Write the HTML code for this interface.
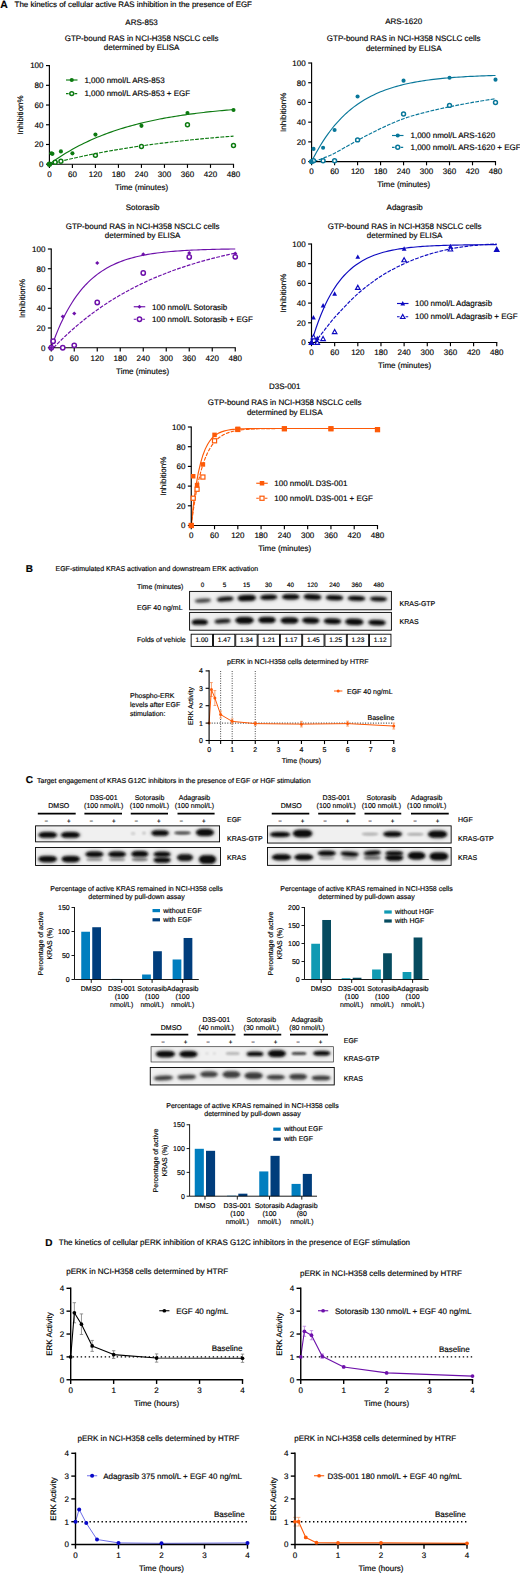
<!DOCTYPE html>
<html><head><meta charset="utf-8"><title>Figure</title>
<style>
html,body{margin:0;padding:0;background:#fff;}
svg{display:block;text-rendering:geometricPrecision;font-family:"Liberation Sans",sans-serif;font-size:8px;}
text{stroke:#000;stroke-width:0.16px;}
</style></head><body>
<svg width="520" height="1573" viewBox="0 0 520 1573">
<defs>
<filter id="b1" x="-30%" y="-60%" width="160%" height="220%"><feGaussianBlur stdDeviation="0.9"/></filter>
<filter id="b3" x="-40%" y="-80%" width="180%" height="260%"><feGaussianBlur stdDeviation="1.8"/></filter>
<filter id="b2" x="-30%" y="-60%" width="160%" height="220%"><feGaussianBlur stdDeviation="1.3"/></filter>
</defs>
<rect width="520" height="1573" fill="#fff"/>
<text x="0.20" y="7.70" font-weight="bold" font-size="10.4">A</text>
<text x="14.60" y="6.90" font-size="7.95">The kinetics of cellular active RAS inhibition in the presence of EGF</text>
<text x="141.60" y="24.70" text-anchor="middle">ARS-853</text>
<text x="141.60" y="41.40" text-anchor="middle">GTP-bound RAS in NCI-H358 NSCLC cells</text>
<text x="141.60" y="50.40" text-anchor="middle">determined by ELISA</text>
<path d="M49.40 164.20 L51.70 162.52 L54.00 160.88 L56.30 159.29 L58.60 157.75 L60.91 156.24 L63.21 154.78 L65.51 153.36 L67.81 151.97 L70.11 150.63 L72.41 149.32 L74.71 148.05 L77.02 146.81 L79.32 145.61 L81.62 144.44 L83.92 143.30 L86.22 142.19 L88.52 141.11 L90.82 140.07 L93.12 139.05 L95.42 138.06 L97.73 137.09 L100.03 136.16 L102.33 135.25 L104.63 134.36 L106.93 133.50 L109.23 132.66 L111.53 131.84 L113.84 131.05 L116.14 130.28 L118.44 129.53 L120.74 128.80 L123.04 128.09 L125.34 127.40 L127.64 126.73 L129.94 126.08 L132.25 125.44 L134.55 124.83 L136.85 124.23 L139.15 123.64 L141.45 123.08 L143.75 122.52 L146.05 121.99 L148.35 121.46 L150.66 120.96 L152.96 120.46 L155.26 119.98 L157.56 119.52 L159.86 119.06 L162.16 118.62 L164.46 118.19 L166.76 117.77 L169.06 117.37 L171.37 116.97 L173.67 116.59 L175.97 116.21 L178.27 115.85 L180.57 115.49 L182.87 115.15 L185.17 114.82 L187.47 114.49 L189.78 114.17 L192.08 113.87 L194.38 113.57 L196.68 113.28 L198.98 112.99 L201.28 112.72 L203.58 112.45 L205.89 112.19 L208.19 111.94 L210.49 111.69 L212.79 111.45 L215.09 111.22 L217.39 110.99 L219.69 110.77 L221.99 110.56 L224.30 110.35 L226.60 110.15 L228.90 109.95 L231.20 109.76 L233.50 109.57" fill="none" stroke="#0c7a10" stroke-width="1.15"/>
<path d="M49.40 164.20 L51.70 163.59 L54.00 162.98 L56.30 162.39 L58.60 161.81 L60.91 161.23 L63.21 160.66 L65.51 160.11 L67.81 159.56 L70.11 159.02 L72.41 158.49 L74.71 157.96 L77.02 157.45 L79.32 156.94 L81.62 156.44 L83.92 155.95 L86.22 155.47 L88.52 154.99 L90.82 154.52 L93.12 154.06 L95.42 153.61 L97.73 153.16 L100.03 152.72 L102.33 152.29 L104.63 151.86 L106.93 151.44 L109.23 151.03 L111.53 150.62 L113.84 150.22 L116.14 149.83 L118.44 149.44 L120.74 149.06 L123.04 148.68 L125.34 148.31 L127.64 147.95 L129.94 147.59 L132.25 147.24 L134.55 146.89 L136.85 146.55 L139.15 146.21 L141.45 145.88 L143.75 145.55 L146.05 145.23 L148.35 144.92 L150.66 144.60 L152.96 144.30 L155.26 144.00 L157.56 143.70 L159.86 143.41 L162.16 143.12 L164.46 142.84 L166.76 142.56 L169.06 142.29 L171.37 142.02 L173.67 141.75 L175.97 141.49 L178.27 141.23 L180.57 140.98 L182.87 140.73 L185.17 140.48 L187.47 140.24 L189.78 140.01 L192.08 139.77 L194.38 139.54 L196.68 139.31 L198.98 139.09 L201.28 138.87 L203.58 138.65 L205.89 138.44 L208.19 138.23 L210.49 138.03 L212.79 137.82 L215.09 137.62 L217.39 137.43 L219.69 137.23 L221.99 137.04 L224.30 136.85 L226.60 136.67 L228.90 136.49 L231.20 136.31 L233.50 136.13" fill="none" stroke="#0c7a10" stroke-width="1.15" stroke-dasharray="3.8 1.3"/>
<path d="M49.40 65.02V164.20H234.07" fill="none" stroke="#000" stroke-width="1.15"/>
<line x1="49.40" y1="164.20" x2="49.40" y2="167.90" stroke="#000" stroke-width="1.15"/>
<text x="49.40" y="176.80" text-anchor="middle">0</text>
<line x1="72.41" y1="164.20" x2="72.41" y2="167.90" stroke="#000" stroke-width="1.15"/>
<text x="72.41" y="176.80" text-anchor="middle">60</text>
<line x1="95.42" y1="164.20" x2="95.42" y2="167.90" stroke="#000" stroke-width="1.15"/>
<text x="95.42" y="176.80" text-anchor="middle">120</text>
<line x1="118.44" y1="164.20" x2="118.44" y2="167.90" stroke="#000" stroke-width="1.15"/>
<text x="118.44" y="176.80" text-anchor="middle">180</text>
<line x1="141.45" y1="164.20" x2="141.45" y2="167.90" stroke="#000" stroke-width="1.15"/>
<text x="141.45" y="176.80" text-anchor="middle">240</text>
<line x1="164.46" y1="164.20" x2="164.46" y2="167.90" stroke="#000" stroke-width="1.15"/>
<text x="164.46" y="176.80" text-anchor="middle">300</text>
<line x1="187.47" y1="164.20" x2="187.47" y2="167.90" stroke="#000" stroke-width="1.15"/>
<text x="187.47" y="176.80" text-anchor="middle">360</text>
<line x1="210.49" y1="164.20" x2="210.49" y2="167.90" stroke="#000" stroke-width="1.15"/>
<text x="210.49" y="176.80" text-anchor="middle">420</text>
<line x1="233.50" y1="164.20" x2="233.50" y2="167.90" stroke="#000" stroke-width="1.15"/>
<text x="233.50" y="176.80" text-anchor="middle">480</text>
<line x1="46.00" y1="164.20" x2="49.40" y2="164.20" stroke="#000" stroke-width="1.15"/>
<text x="43.50" y="167.05" text-anchor="end">0</text>
<line x1="46.00" y1="144.48" x2="49.40" y2="144.48" stroke="#000" stroke-width="1.15"/>
<text x="43.50" y="147.33" text-anchor="end">20</text>
<line x1="46.00" y1="124.76" x2="49.40" y2="124.76" stroke="#000" stroke-width="1.15"/>
<text x="43.50" y="127.61" text-anchor="end">40</text>
<line x1="46.00" y1="105.04" x2="49.40" y2="105.04" stroke="#000" stroke-width="1.15"/>
<text x="43.50" y="107.89" text-anchor="end">60</text>
<line x1="46.00" y1="85.32" x2="49.40" y2="85.32" stroke="#000" stroke-width="1.15"/>
<text x="43.50" y="88.17" text-anchor="end">80</text>
<line x1="46.00" y1="65.60" x2="49.40" y2="65.60" stroke="#000" stroke-width="1.15"/>
<text x="43.50" y="68.45" text-anchor="end">100</text>
<text x="141.60" y="189.50" text-anchor="middle">Time (minutes)</text>
<text x="23.50" y="114.90" text-anchor="middle" transform="rotate(-90 23.50 114.90)">Inhibition%</text>
<circle cx="49.40" cy="164.20" r="1.95" fill="#fff" stroke="#0c7a10" stroke-width="1.5"/>
<circle cx="55.15" cy="162.23" r="1.95" fill="#fff" stroke="#0c7a10" stroke-width="1.5"/>
<circle cx="60.91" cy="161.24" r="1.95" fill="#fff" stroke="#0c7a10" stroke-width="1.5"/>
<circle cx="95.42" cy="155.33" r="1.95" fill="#fff" stroke="#0c7a10" stroke-width="1.5"/>
<circle cx="141.45" cy="146.55" r="1.95" fill="#fff" stroke="#0c7a10" stroke-width="1.5"/>
<circle cx="187.47" cy="124.76" r="1.95" fill="#fff" stroke="#0c7a10" stroke-width="1.5"/>
<circle cx="233.50" cy="145.56" r="1.95" fill="#fff" stroke="#0c7a10" stroke-width="1.5"/>
<circle cx="49.40" cy="164.20" r="2.05" fill="#0c7a10"/>
<circle cx="51.32" cy="153.35" r="2.05" fill="#0c7a10"/>
<circle cx="52.47" cy="153.85" r="2.05" fill="#0c7a10"/>
<circle cx="60.91" cy="151.38" r="2.05" fill="#0c7a10"/>
<circle cx="72.41" cy="153.35" r="2.05" fill="#0c7a10"/>
<circle cx="95.42" cy="134.62" r="2.05" fill="#0c7a10"/>
<circle cx="141.45" cy="125.84" r="2.05" fill="#0c7a10"/>
<circle cx="187.47" cy="113.03" r="2.05" fill="#0c7a10"/>
<circle cx="233.50" cy="110.07" r="2.05" fill="#0c7a10"/>
<line x1="66.00" y1="80.00" x2="77.50" y2="80.00" stroke="#0c7a10" stroke-width="1.15"/>
<circle cx="71.75" cy="80.00" r="2.05" fill="#0c7a10"/>
<text x="84.40" y="82.75">1,000 nmol/L ARS-853</text>
<line x1="66.00" y1="93.60" x2="77.50" y2="93.60" stroke="#0c7a10" stroke-width="1.15" stroke-dasharray="2.6 1.7"/>
<circle cx="71.75" cy="93.60" r="1.95" fill="#fff" stroke="#0c7a10" stroke-width="1.5"/>
<text x="84.40" y="96.35">1,000 nmol/L ARS-853 + EGF</text>
<text x="403.70" y="24.40" text-anchor="middle">ARS-1620</text>
<text x="403.70" y="41.20" text-anchor="middle">GTP-bound RAS in NCI-H358 NSCLC cells</text>
<text x="403.70" y="51.00" text-anchor="middle">determined by ELISA</text>
<path d="M311.60 161.60 L313.90 157.06 L316.20 152.75 L318.50 148.67 L320.80 144.80 L323.09 141.13 L325.39 137.65 L327.69 134.35 L329.99 131.23 L332.29 128.26 L334.59 125.46 L336.89 122.79 L339.19 120.27 L341.48 117.87 L343.78 115.61 L346.08 113.45 L348.38 111.42 L350.68 109.48 L352.98 107.65 L355.28 105.91 L357.58 104.27 L359.87 102.70 L362.17 101.22 L364.47 99.82 L366.77 98.49 L369.07 97.23 L371.37 96.03 L373.67 94.90 L375.97 93.83 L378.26 92.81 L380.56 91.84 L382.86 90.93 L385.16 90.06 L387.46 89.24 L389.76 88.46 L392.06 87.72 L394.36 87.02 L396.65 86.35 L398.95 85.72 L401.25 85.13 L403.55 84.56 L405.85 84.02 L408.15 83.51 L410.45 83.03 L412.75 82.58 L415.04 82.14 L417.34 81.73 L419.64 81.34 L421.94 80.97 L424.24 80.62 L426.54 80.29 L428.84 79.98 L431.13 79.68 L433.43 79.39 L435.73 79.13 L438.03 78.87 L440.33 78.63 L442.63 78.40 L444.93 78.19 L447.23 77.98 L449.52 77.79 L451.82 77.60 L454.12 77.43 L456.42 77.26 L458.72 77.11 L461.02 76.96 L463.32 76.81 L465.62 76.68 L467.91 76.55 L470.21 76.43 L472.51 76.32 L474.81 76.21 L477.11 76.11 L479.41 76.01 L481.71 75.92 L484.01 75.83 L486.31 75.75 L488.60 75.67 L490.90 75.60 L493.20 75.53 L495.50 75.46" fill="none" stroke="#08779a" stroke-width="1.15"/>
<path d="M313.90 161.60C315.43 161.02 319.65 159.55 323.09 158.15C326.54 156.75 328.84 156.18 334.59 153.22C340.33 150.26 349.91 144.51 357.58 140.40C365.24 136.29 372.90 132.18 380.56 128.57C388.23 124.95 395.89 121.47 403.55 118.71C411.21 115.95 418.88 113.99 426.54 112.00C434.20 110.02 441.86 108.37 449.52 106.78C457.19 105.18 464.85 103.79 472.51 102.44C480.18 101.09 491.67 99.32 495.50 98.69" fill="none" stroke="#08779a" stroke-width="1.15" stroke-dasharray="3.8 1.3"/>
<path d="M311.60 62.42V161.60H496.07" fill="none" stroke="#000" stroke-width="1.15"/>
<line x1="311.60" y1="161.60" x2="311.60" y2="165.30" stroke="#000" stroke-width="1.15"/>
<text x="311.60" y="174.20" text-anchor="middle">0</text>
<line x1="334.59" y1="161.60" x2="334.59" y2="165.30" stroke="#000" stroke-width="1.15"/>
<text x="334.59" y="174.20" text-anchor="middle">60</text>
<line x1="357.58" y1="161.60" x2="357.58" y2="165.30" stroke="#000" stroke-width="1.15"/>
<text x="357.58" y="174.20" text-anchor="middle">120</text>
<line x1="380.56" y1="161.60" x2="380.56" y2="165.30" stroke="#000" stroke-width="1.15"/>
<text x="380.56" y="174.20" text-anchor="middle">180</text>
<line x1="403.55" y1="161.60" x2="403.55" y2="165.30" stroke="#000" stroke-width="1.15"/>
<text x="403.55" y="174.20" text-anchor="middle">240</text>
<line x1="426.54" y1="161.60" x2="426.54" y2="165.30" stroke="#000" stroke-width="1.15"/>
<text x="426.54" y="174.20" text-anchor="middle">300</text>
<line x1="449.52" y1="161.60" x2="449.52" y2="165.30" stroke="#000" stroke-width="1.15"/>
<text x="449.52" y="174.20" text-anchor="middle">360</text>
<line x1="472.51" y1="161.60" x2="472.51" y2="165.30" stroke="#000" stroke-width="1.15"/>
<text x="472.51" y="174.20" text-anchor="middle">420</text>
<line x1="495.50" y1="161.60" x2="495.50" y2="165.30" stroke="#000" stroke-width="1.15"/>
<text x="495.50" y="174.20" text-anchor="middle">480</text>
<line x1="308.20" y1="161.60" x2="311.60" y2="161.60" stroke="#000" stroke-width="1.15"/>
<text x="305.70" y="164.45" text-anchor="end">0</text>
<line x1="308.20" y1="141.88" x2="311.60" y2="141.88" stroke="#000" stroke-width="1.15"/>
<text x="305.70" y="144.73" text-anchor="end">20</text>
<line x1="308.20" y1="122.16" x2="311.60" y2="122.16" stroke="#000" stroke-width="1.15"/>
<text x="305.70" y="125.01" text-anchor="end">40</text>
<line x1="308.20" y1="102.44" x2="311.60" y2="102.44" stroke="#000" stroke-width="1.15"/>
<text x="305.70" y="105.29" text-anchor="end">60</text>
<line x1="308.20" y1="82.72" x2="311.60" y2="82.72" stroke="#000" stroke-width="1.15"/>
<text x="305.70" y="85.57" text-anchor="end">80</text>
<line x1="308.20" y1="63.00" x2="311.60" y2="63.00" stroke="#000" stroke-width="1.15"/>
<text x="305.70" y="65.85" text-anchor="end">100</text>
<text x="403.70" y="187.20" text-anchor="middle">Time (minutes)</text>
<text x="286.30" y="112.30" text-anchor="middle" transform="rotate(-90 286.30 112.30)">Inhibition%</text>
<circle cx="311.60" cy="161.60" r="1.95" fill="#fff" stroke="#08779a" stroke-width="1.5"/>
<circle cx="313.52" cy="160.81" r="1.95" fill="#fff" stroke="#08779a" stroke-width="1.5"/>
<circle cx="323.09" cy="160.81" r="1.95" fill="#fff" stroke="#08779a" stroke-width="1.5"/>
<circle cx="334.59" cy="160.81" r="1.95" fill="#fff" stroke="#08779a" stroke-width="1.5"/>
<circle cx="357.58" cy="139.91" r="1.95" fill="#fff" stroke="#08779a" stroke-width="1.5"/>
<circle cx="403.55" cy="113.98" r="1.95" fill="#fff" stroke="#08779a" stroke-width="1.5"/>
<circle cx="449.52" cy="105.40" r="1.95" fill="#fff" stroke="#08779a" stroke-width="1.5"/>
<circle cx="495.50" cy="102.44" r="1.95" fill="#fff" stroke="#08779a" stroke-width="1.5"/>
<circle cx="311.60" cy="161.60" r="2.05" fill="#08779a"/>
<circle cx="313.52" cy="148.88" r="2.05" fill="#08779a"/>
<circle cx="323.09" cy="147.80" r="2.05" fill="#08779a"/>
<circle cx="334.59" cy="130.05" r="2.05" fill="#08779a"/>
<circle cx="357.58" cy="96.52" r="2.05" fill="#08779a"/>
<circle cx="403.55" cy="80.65" r="2.05" fill="#08779a"/>
<circle cx="449.52" cy="77.69" r="2.05" fill="#08779a"/>
<circle cx="495.50" cy="79.66" r="2.05" fill="#08779a"/>
<line x1="392.00" y1="135.50" x2="403.50" y2="135.50" stroke="#08779a" stroke-width="1.15"/>
<circle cx="397.75" cy="135.50" r="2.05" fill="#08779a"/>
<text x="410.50" y="138.25">1,000 nmol/L ARS-1620</text>
<line x1="392.00" y1="147.30" x2="403.50" y2="147.30" stroke="#08779a" stroke-width="1.15" stroke-dasharray="2.6 1.7"/>
<circle cx="397.75" cy="147.30" r="1.95" fill="#fff" stroke="#08779a" stroke-width="1.5"/>
<text x="410.50" y="150.05">1,000 nmol/L ARS-1620 + EGF</text>
<text x="142.60" y="210.00" text-anchor="middle">Sotorasib</text>
<text x="142.60" y="228.70" text-anchor="middle">GTP-bound RAS in NCI-H358 NSCLC cells</text>
<text x="142.60" y="237.70" text-anchor="middle">determined by ELISA</text>
<path d="M51.25 347.75 L53.55 341.30 L55.85 335.27 L58.15 329.63 L60.45 324.36 L62.75 319.43 L65.05 314.82 L67.35 310.51 L69.65 306.48 L71.95 302.71 L74.25 299.19 L76.55 295.89 L78.85 292.81 L81.15 289.94 L83.45 287.24 L85.75 284.73 L88.05 282.37 L90.35 280.17 L92.65 278.11 L94.95 276.19 L97.25 274.39 L99.55 272.71 L101.85 271.13 L104.15 269.66 L106.45 268.29 L108.75 267.00 L111.05 265.80 L113.35 264.68 L115.65 263.63 L117.95 262.64 L120.25 261.72 L122.55 260.87 L124.85 260.06 L127.15 259.31 L129.45 258.61 L131.75 257.95 L134.05 257.34 L136.35 256.76 L138.65 256.23 L140.95 255.73 L143.25 255.26 L145.55 254.82 L147.85 254.41 L150.15 254.02 L152.45 253.67 L154.75 253.33 L157.05 253.02 L159.35 252.72 L161.65 252.45 L163.95 252.19 L166.25 251.95 L168.55 251.73 L170.85 251.52 L173.15 251.32 L175.45 251.14 L177.75 250.97 L180.05 250.81 L182.35 250.66 L184.65 250.52 L186.95 250.39 L189.25 250.27 L191.55 250.15 L193.85 250.05 L196.15 249.95 L198.45 249.85 L200.75 249.76 L203.05 249.68 L205.35 249.61 L207.65 249.53 L209.95 249.47 L212.25 249.41 L214.55 249.35 L216.85 249.29 L219.15 249.24 L221.45 249.19 L223.75 249.15 L226.05 249.11 L228.35 249.07 L230.65 249.03 L232.95 249.00 L235.25 248.97" fill="none" stroke="#6d10aa" stroke-width="1.15"/>
<path d="M53.55 347.75 L55.82 345.40 L58.09 343.10 L60.36 340.84 L62.63 338.63 L64.91 336.46 L67.18 334.33 L69.45 332.25 L71.72 330.21 L73.99 328.21 L76.26 326.24 L78.53 324.32 L80.81 322.44 L83.08 320.59 L85.35 318.78 L87.62 317.00 L89.89 315.26 L92.16 313.56 L94.43 311.89 L96.70 310.25 L98.97 308.64 L101.25 307.07 L103.52 305.52 L105.79 304.01 L108.06 302.53 L110.33 301.08 L112.60 299.65 L114.87 298.26 L117.15 296.89 L119.42 295.55 L121.69 294.23 L123.96 292.94 L126.23 291.68 L128.50 290.44 L130.77 289.23 L133.04 288.04 L135.31 286.88 L137.59 285.73 L139.86 284.61 L142.13 283.52 L144.40 282.44 L146.67 281.38 L148.94 280.35 L151.21 279.34 L153.49 278.34 L155.76 277.37 L158.03 276.42 L160.30 275.48 L162.57 274.57 L164.84 273.67 L167.11 272.79 L169.38 271.92 L171.66 271.08 L173.93 270.25 L176.20 269.43 L178.47 268.64 L180.74 267.86 L183.01 267.09 L185.28 266.34 L187.55 265.61 L189.83 264.88 L192.10 264.18 L194.37 263.49 L196.64 262.81 L198.91 262.14 L201.18 261.49 L203.45 260.85 L205.72 260.22 L208.00 259.61 L210.27 259.01 L212.54 258.42 L214.81 257.84 L217.08 257.27 L219.35 256.72 L221.62 256.17 L223.89 255.64 L226.17 255.12 L228.44 254.60 L230.71 254.10 L232.98 253.61 L235.25 253.12" fill="none" stroke="#6d10aa" stroke-width="1.15" stroke-dasharray="3.8 1.3"/>
<path d="M51.25 248.43V347.75H235.82" fill="none" stroke="#000" stroke-width="1.15"/>
<line x1="51.25" y1="347.75" x2="51.25" y2="351.45" stroke="#000" stroke-width="1.15"/>
<text x="51.25" y="361.00" text-anchor="middle">0</text>
<line x1="74.25" y1="347.75" x2="74.25" y2="351.45" stroke="#000" stroke-width="1.15"/>
<text x="74.25" y="361.00" text-anchor="middle">60</text>
<line x1="97.25" y1="347.75" x2="97.25" y2="351.45" stroke="#000" stroke-width="1.15"/>
<text x="97.25" y="361.00" text-anchor="middle">120</text>
<line x1="120.25" y1="347.75" x2="120.25" y2="351.45" stroke="#000" stroke-width="1.15"/>
<text x="120.25" y="361.00" text-anchor="middle">180</text>
<line x1="143.25" y1="347.75" x2="143.25" y2="351.45" stroke="#000" stroke-width="1.15"/>
<text x="143.25" y="361.00" text-anchor="middle">240</text>
<line x1="166.25" y1="347.75" x2="166.25" y2="351.45" stroke="#000" stroke-width="1.15"/>
<text x="166.25" y="361.00" text-anchor="middle">300</text>
<line x1="189.25" y1="347.75" x2="189.25" y2="351.45" stroke="#000" stroke-width="1.15"/>
<text x="189.25" y="361.00" text-anchor="middle">360</text>
<line x1="212.25" y1="347.75" x2="212.25" y2="351.45" stroke="#000" stroke-width="1.15"/>
<text x="212.25" y="361.00" text-anchor="middle">420</text>
<line x1="235.25" y1="347.75" x2="235.25" y2="351.45" stroke="#000" stroke-width="1.15"/>
<text x="235.25" y="361.00" text-anchor="middle">480</text>
<line x1="47.85" y1="347.75" x2="51.25" y2="347.75" stroke="#000" stroke-width="1.15"/>
<text x="45.35" y="350.60" text-anchor="end">0</text>
<line x1="47.85" y1="328.00" x2="51.25" y2="328.00" stroke="#000" stroke-width="1.15"/>
<text x="45.35" y="330.85" text-anchor="end">20</text>
<line x1="47.85" y1="308.25" x2="51.25" y2="308.25" stroke="#000" stroke-width="1.15"/>
<text x="45.35" y="311.10" text-anchor="end">40</text>
<line x1="47.85" y1="288.50" x2="51.25" y2="288.50" stroke="#000" stroke-width="1.15"/>
<text x="45.35" y="291.35" text-anchor="end">60</text>
<line x1="47.85" y1="268.75" x2="51.25" y2="268.75" stroke="#000" stroke-width="1.15"/>
<text x="45.35" y="271.60" text-anchor="end">80</text>
<line x1="47.85" y1="249.00" x2="51.25" y2="249.00" stroke="#000" stroke-width="1.15"/>
<text x="45.35" y="251.85" text-anchor="end">100</text>
<text x="142.60" y="374.00" text-anchor="middle">Time (minutes)</text>
<text x="25.50" y="298.38" text-anchor="middle" transform="rotate(-90 25.50 298.38)">Inhibition%</text>
<circle cx="51.25" cy="347.75" r="2.15" fill="#fff" stroke="#6d10aa" stroke-width="1.5"/>
<circle cx="53.17" cy="341.23" r="2.15" fill="#fff" stroke="#6d10aa" stroke-width="1.5"/>
<circle cx="62.75" cy="347.75" r="2.15" fill="#fff" stroke="#6d10aa" stroke-width="1.5"/>
<circle cx="74.25" cy="345.28" r="2.15" fill="#fff" stroke="#6d10aa" stroke-width="1.5"/>
<circle cx="97.25" cy="302.52" r="2.15" fill="#fff" stroke="#6d10aa" stroke-width="1.5"/>
<circle cx="143.25" cy="273.00" r="2.15" fill="#fff" stroke="#6d10aa" stroke-width="1.5"/>
<circle cx="189.25" cy="257.00" r="2.15" fill="#fff" stroke="#6d10aa" stroke-width="1.5"/>
<circle cx="235.25" cy="256.80" r="2.15" fill="#fff" stroke="#6d10aa" stroke-width="1.5"/>
<path d="M51.25 345.70L53.30 347.75L51.25 349.80L49.20 347.75Z" fill="#6d10aa"/>
<path d="M62.75 314.50L64.80 316.55L62.75 318.60L60.70 316.55Z" fill="#6d10aa"/>
<path d="M74.25 311.43L76.30 313.48L74.25 315.53L72.20 313.48Z" fill="#6d10aa"/>
<path d="M97.25 260.97L99.30 263.02L97.25 265.07L95.20 263.02Z" fill="#6d10aa"/>
<path d="M143.25 252.18L145.30 254.23L143.25 256.28L141.20 254.23Z" fill="#6d10aa"/>
<path d="M189.25 250.90L191.30 252.95L189.25 255.00L187.20 252.95Z" fill="#6d10aa"/>
<path d="M235.25 251.49L237.30 253.54L235.25 255.59L233.20 253.54Z" fill="#6d10aa"/>
<line x1="133.75" y1="306.75" x2="145.25" y2="306.75" stroke="#6d10aa" stroke-width="1.15"/>
<path d="M139.50 304.70L141.55 306.75L139.50 308.80L137.45 306.75Z" fill="#6d10aa"/>
<text x="152.00" y="309.50">100 nmol/L Sotorasib</text>
<line x1="133.75" y1="319.25" x2="145.25" y2="319.25" stroke="#6d10aa" stroke-width="1.15" stroke-dasharray="2.6 1.7"/>
<circle cx="139.50" cy="319.25" r="2.15" fill="#fff" stroke="#6d10aa" stroke-width="1.5"/>
<text x="152.00" y="322.00">100 nmol/L Sotorasib + EGF</text>
<text x="404.60" y="210.00" text-anchor="middle">Adagrasib</text>
<text x="404.60" y="228.50" text-anchor="middle">GTP-bound RAS in NCI-H358 NSCLC cells</text>
<text x="404.60" y="237.70" text-anchor="middle">determined by ELISA</text>
<path d="M311.50 342.50 L313.82 334.82 L316.13 327.74 L318.45 321.22 L320.76 315.21 L323.08 309.67 L325.39 304.56 L327.71 299.85 L330.02 295.51 L332.34 291.52 L334.66 287.83 L336.97 284.44 L339.29 281.31 L341.60 278.42 L343.92 275.76 L346.23 273.31 L348.55 271.05 L350.87 268.97 L353.18 267.05 L355.50 265.29 L357.81 263.66 L360.13 262.16 L362.44 260.77 L364.76 259.50 L367.07 258.32 L369.39 257.24 L371.71 256.24 L374.02 255.32 L376.34 254.47 L378.65 253.69 L380.97 252.97 L383.28 252.30 L385.60 251.69 L387.92 251.13 L390.23 250.61 L392.55 250.13 L394.86 249.69 L397.18 249.28 L399.49 248.90 L401.81 248.56 L404.12 248.24 L406.44 247.95 L408.76 247.68 L411.07 247.43 L413.39 247.20 L415.70 246.98 L418.02 246.79 L420.33 246.61 L422.65 246.44 L424.97 246.29 L427.28 246.15 L429.60 246.02 L431.91 245.90 L434.23 245.79 L436.54 245.69 L438.86 245.59 L441.17 245.51 L443.49 245.43 L445.81 245.36 L448.12 245.29 L450.44 245.23 L452.75 245.17 L455.07 245.11 L457.38 245.07 L459.70 245.02 L462.02 244.98 L464.33 244.94 L466.65 244.91 L468.96 244.87 L471.28 244.84 L473.59 244.82 L475.91 244.79 L478.23 244.77 L480.54 244.75 L482.86 244.73 L485.17 244.71 L487.49 244.69 L489.80 244.68 L492.12 244.66 L494.43 244.65 L496.75 244.64" fill="none" stroke="#0d0ac0" stroke-width="1.15"/>
<path d="M314.59 342.50C316.00 340.74 319.73 336.13 323.08 331.96C326.42 327.79 328.87 323.85 334.66 317.48C340.45 311.11 350.09 300.62 357.81 293.74C365.53 286.86 373.25 281.22 380.97 276.21C388.69 271.20 396.41 267.26 404.12 263.70C411.84 260.14 419.56 257.30 427.28 254.84C435.00 252.37 442.72 250.48 450.44 248.93C458.16 247.37 465.88 246.30 473.59 245.48C481.31 244.66 492.89 244.25 496.75 244.00" fill="none" stroke="#0d0ac0" stroke-width="1.15" stroke-dasharray="3.8 1.3"/>
<path d="M311.50 243.43V342.50H497.32" fill="none" stroke="#000" stroke-width="1.15"/>
<line x1="311.50" y1="342.50" x2="311.50" y2="346.20" stroke="#000" stroke-width="1.15"/>
<text x="311.50" y="355.00" text-anchor="middle">0</text>
<line x1="334.66" y1="342.50" x2="334.66" y2="346.20" stroke="#000" stroke-width="1.15"/>
<text x="334.66" y="355.00" text-anchor="middle">60</text>
<line x1="357.81" y1="342.50" x2="357.81" y2="346.20" stroke="#000" stroke-width="1.15"/>
<text x="357.81" y="355.00" text-anchor="middle">120</text>
<line x1="380.97" y1="342.50" x2="380.97" y2="346.20" stroke="#000" stroke-width="1.15"/>
<text x="380.97" y="355.00" text-anchor="middle">180</text>
<line x1="404.12" y1="342.50" x2="404.12" y2="346.20" stroke="#000" stroke-width="1.15"/>
<text x="404.12" y="355.00" text-anchor="middle">240</text>
<line x1="427.28" y1="342.50" x2="427.28" y2="346.20" stroke="#000" stroke-width="1.15"/>
<text x="427.28" y="355.00" text-anchor="middle">300</text>
<line x1="450.44" y1="342.50" x2="450.44" y2="346.20" stroke="#000" stroke-width="1.15"/>
<text x="450.44" y="355.00" text-anchor="middle">360</text>
<line x1="473.59" y1="342.50" x2="473.59" y2="346.20" stroke="#000" stroke-width="1.15"/>
<text x="473.59" y="355.00" text-anchor="middle">420</text>
<line x1="496.75" y1="342.50" x2="496.75" y2="346.20" stroke="#000" stroke-width="1.15"/>
<text x="496.75" y="355.00" text-anchor="middle">480</text>
<line x1="308.10" y1="342.50" x2="311.50" y2="342.50" stroke="#000" stroke-width="1.15"/>
<text x="305.60" y="345.35" text-anchor="end">0</text>
<line x1="308.10" y1="322.80" x2="311.50" y2="322.80" stroke="#000" stroke-width="1.15"/>
<text x="305.60" y="325.65" text-anchor="end">20</text>
<line x1="308.10" y1="303.10" x2="311.50" y2="303.10" stroke="#000" stroke-width="1.15"/>
<text x="305.60" y="305.95" text-anchor="end">40</text>
<line x1="308.10" y1="283.40" x2="311.50" y2="283.40" stroke="#000" stroke-width="1.15"/>
<text x="305.60" y="286.25" text-anchor="end">60</text>
<line x1="308.10" y1="263.70" x2="311.50" y2="263.70" stroke="#000" stroke-width="1.15"/>
<text x="305.60" y="266.55" text-anchor="end">80</text>
<line x1="308.10" y1="244.00" x2="311.50" y2="244.00" stroke="#000" stroke-width="1.15"/>
<text x="305.60" y="246.85" text-anchor="end">100</text>
<text x="404.60" y="368.00" text-anchor="middle">Time (minutes)</text>
<text x="285.50" y="293.25" text-anchor="middle" transform="rotate(-90 285.50 293.25)">Inhibition%</text>
<path d="M311.50 340.25L313.75 344.30L309.25 344.30Z" fill="#fff" stroke="#0d0ac0" stroke-width="1.2" stroke-linejoin="miter"/>
<path d="M313.43 334.73L315.68 338.79L311.17 338.79Z" fill="#fff" stroke="#0d0ac0" stroke-width="1.2" stroke-linejoin="miter"/>
<path d="M317.29 340.25L319.54 344.30L315.03 344.30Z" fill="#fff" stroke="#0d0ac0" stroke-width="1.2" stroke-linejoin="miter"/>
<path d="M323.08 336.50L325.33 340.56L320.82 340.56Z" fill="#fff" stroke="#0d0ac0" stroke-width="1.2" stroke-linejoin="miter"/>
<path d="M334.66 329.51L336.91 333.57L332.40 333.57Z" fill="#fff" stroke="#0d0ac0" stroke-width="1.2" stroke-linejoin="miter"/>
<path d="M357.81 285.28L360.07 289.34L355.56 289.34Z" fill="#fff" stroke="#0d0ac0" stroke-width="1.2" stroke-linejoin="miter"/>
<path d="M404.12 257.70L406.38 261.76L401.87 261.76Z" fill="#fff" stroke="#0d0ac0" stroke-width="1.2" stroke-linejoin="miter"/>
<path d="M450.44 246.97L452.69 251.02L448.18 251.02Z" fill="#fff" stroke="#0d0ac0" stroke-width="1.2" stroke-linejoin="miter"/>
<path d="M496.75 247.26L499.00 251.32L494.50 251.32Z" fill="#fff" stroke="#0d0ac0" stroke-width="1.2" stroke-linejoin="miter"/>
<path d="M311.50 340.10L313.90 344.42L309.10 344.42Z" fill="#0d0ac0"/>
<path d="M313.43 315.08L315.83 319.40L311.03 319.40Z" fill="#0d0ac0"/>
<path d="M317.29 335.87L319.69 340.18L314.89 340.18Z" fill="#0d0ac0"/>
<path d="M323.08 303.07L325.48 307.38L320.68 307.38Z" fill="#0d0ac0"/>
<path d="M334.66 291.34L337.05 295.66L332.26 295.66Z" fill="#0d0ac0"/>
<path d="M357.81 254.41L360.21 258.72L355.41 258.72Z" fill="#0d0ac0"/>
<path d="M404.12 246.33L406.52 250.65L401.73 250.65Z" fill="#0d0ac0"/>
<path d="M450.44 243.87L452.84 248.18L448.04 248.18Z" fill="#0d0ac0"/>
<path d="M496.75 247.12L499.15 251.43L494.35 251.43Z" fill="#0d0ac0"/>
<line x1="397.00" y1="303.50" x2="408.50" y2="303.50" stroke="#0d0ac0" stroke-width="1.15"/>
<path d="M402.75 301.10L405.15 305.42L400.35 305.42Z" fill="#0d0ac0"/>
<text x="415.00" y="306.25">100 nmol/L Adagrasib</text>
<line x1="397.00" y1="316.70" x2="408.50" y2="316.70" stroke="#0d0ac0" stroke-width="1.15" stroke-dasharray="2.6 1.7"/>
<path d="M402.75 314.44L405.00 318.50L400.50 318.50Z" fill="#fff" stroke="#0d0ac0" stroke-width="1.2" stroke-linejoin="miter"/>
<text x="415.00" y="319.45">100 nmol/L Adagrasib + EGF</text>
<text x="284.70" y="388.80" text-anchor="middle">D3S-001</text>
<text x="284.70" y="404.90" text-anchor="middle">GTP-bound RAS in NCI-H358 NSCLC cells</text>
<text x="284.70" y="414.70" text-anchor="middle">determined by ELISA</text>
<path d="M191.25 525.50 L193.58 503.44 L195.91 486.39 L198.23 473.22 L200.56 463.05 L202.89 455.18 L205.22 449.11 L207.55 444.42 L209.88 440.79 L212.20 437.99 L214.53 435.83 L216.86 434.16 L219.19 432.87 L221.52 431.87 L223.84 431.10 L226.17 430.50 L228.50 430.04 L230.83 429.69 L233.16 429.41 L235.48 429.20 L237.81 429.03 L240.14 428.91 L242.47 428.81 L244.80 428.73 L247.12 428.68 L249.45 428.63 L251.78 428.60 L254.11 428.57 L256.44 428.55 L258.77 428.53 L261.09 428.52 L263.42 428.51 L265.75 428.50 L268.08 428.50 L270.41 428.49 L272.73 428.49 L275.06 428.49 L277.39 428.48 L279.72 428.48 L282.05 428.48 L284.38 428.48 L286.70 428.48 L289.03 428.48 L291.36 428.48 L293.69 428.48 L296.02 428.48 L298.34 428.48 L300.67 428.48 L303.00 428.48 L305.33 428.48 L307.66 428.48 L309.98 428.48 L312.31 428.48 L314.64 428.48 L316.97 428.48 L319.30 428.48 L321.62 428.48 L323.95 428.48 L326.28 428.48 L328.61 428.48 L330.94 428.48 L333.27 428.48 L335.59 428.48 L337.92 428.48 L340.25 428.48 L342.58 428.48 L344.91 428.48 L347.23 428.48 L349.56 428.48 L351.89 428.48 L354.22 428.48 L356.55 428.48 L358.88 428.48 L361.20 428.48 L363.53 428.48 L365.86 428.48 L368.19 428.48 L370.52 428.48 L372.84 428.48 L375.17 428.48 L377.50 428.48" fill="none" stroke="#fd5a08" stroke-width="1.15"/>
<path d="M191.25 525.50 L193.58 508.12 L195.91 493.85 L198.23 482.14 L200.56 472.53 L202.89 464.64 L205.22 458.16 L207.55 452.84 L209.88 448.48 L212.20 444.89 L214.53 441.95 L216.86 439.54 L219.19 437.56 L221.52 435.93 L223.84 434.60 L226.17 433.50 L228.50 432.60 L230.83 431.86 L233.16 431.26 L235.48 430.76 L237.81 430.35 L240.14 430.01 L242.47 429.74 L244.80 429.51 L247.12 429.33 L249.45 429.18 L251.78 429.05 L254.11 428.95 L256.44 428.86 L258.77 428.79 L261.09 428.74 L263.42 428.69 L265.75 428.65 L268.08 428.62 L270.41 428.60 L272.73 428.57 L275.06 428.56 L277.39 428.54 L279.72 428.53 L282.05 428.52 L284.38 428.51 L286.70 428.51 L289.03 428.50 L291.36 428.50 L293.69 428.49 L296.02 428.49 L298.34 428.49 L300.67 428.49 L303.00 428.48 L305.33 428.48 L307.66 428.48 L309.98 428.48 L312.31 428.48 L314.64 428.48 L316.97 428.48 L319.30 428.48 L321.62 428.48 L323.95 428.48 L326.28 428.48 L328.61 428.48 L330.94 428.48 L333.27 428.48 L335.59 428.48 L337.92 428.48 L340.25 428.48 L342.58 428.48 L344.91 428.48 L347.23 428.48 L349.56 428.48 L351.89 428.48 L354.22 428.48 L356.55 428.48 L358.88 428.48 L361.20 428.48 L363.53 428.48 L365.86 428.48 L368.19 428.48 L370.52 428.48 L372.84 428.48 L375.17 428.48 L377.50 428.48" fill="none" stroke="#fd5a08" stroke-width="1.15" stroke-dasharray="3.8 1.3"/>
<path d="M191.25 426.43V525.50H378.07" fill="none" stroke="#000" stroke-width="1.15"/>
<line x1="191.25" y1="525.50" x2="191.25" y2="529.20" stroke="#000" stroke-width="1.15"/>
<text x="191.25" y="538.00" text-anchor="middle">0</text>
<line x1="214.53" y1="525.50" x2="214.53" y2="529.20" stroke="#000" stroke-width="1.15"/>
<text x="214.53" y="538.00" text-anchor="middle">60</text>
<line x1="237.81" y1="525.50" x2="237.81" y2="529.20" stroke="#000" stroke-width="1.15"/>
<text x="237.81" y="538.00" text-anchor="middle">120</text>
<line x1="261.09" y1="525.50" x2="261.09" y2="529.20" stroke="#000" stroke-width="1.15"/>
<text x="261.09" y="538.00" text-anchor="middle">180</text>
<line x1="284.38" y1="525.50" x2="284.38" y2="529.20" stroke="#000" stroke-width="1.15"/>
<text x="284.38" y="538.00" text-anchor="middle">240</text>
<line x1="307.66" y1="525.50" x2="307.66" y2="529.20" stroke="#000" stroke-width="1.15"/>
<text x="307.66" y="538.00" text-anchor="middle">300</text>
<line x1="330.94" y1="525.50" x2="330.94" y2="529.20" stroke="#000" stroke-width="1.15"/>
<text x="330.94" y="538.00" text-anchor="middle">360</text>
<line x1="354.22" y1="525.50" x2="354.22" y2="529.20" stroke="#000" stroke-width="1.15"/>
<text x="354.22" y="538.00" text-anchor="middle">420</text>
<line x1="377.50" y1="525.50" x2="377.50" y2="529.20" stroke="#000" stroke-width="1.15"/>
<text x="377.50" y="538.00" text-anchor="middle">480</text>
<line x1="187.85" y1="525.50" x2="191.25" y2="525.50" stroke="#000" stroke-width="1.15"/>
<text x="185.35" y="528.35" text-anchor="end">0</text>
<line x1="187.85" y1="505.80" x2="191.25" y2="505.80" stroke="#000" stroke-width="1.15"/>
<text x="185.35" y="508.65" text-anchor="end">20</text>
<line x1="187.85" y1="486.10" x2="191.25" y2="486.10" stroke="#000" stroke-width="1.15"/>
<text x="185.35" y="488.95" text-anchor="end">40</text>
<line x1="187.85" y1="466.40" x2="191.25" y2="466.40" stroke="#000" stroke-width="1.15"/>
<text x="185.35" y="469.25" text-anchor="end">60</text>
<line x1="187.85" y1="446.70" x2="191.25" y2="446.70" stroke="#000" stroke-width="1.15"/>
<text x="185.35" y="449.55" text-anchor="end">80</text>
<line x1="187.85" y1="427.00" x2="191.25" y2="427.00" stroke="#000" stroke-width="1.15"/>
<text x="185.35" y="429.85" text-anchor="end">100</text>
<text x="284.70" y="551.00" text-anchor="middle">Time (minutes)</text>
<text x="165.50" y="476.25" text-anchor="middle" transform="rotate(-90 165.50 476.25)">Inhibition%</text>
<rect x="189.20" y="523.45" width="4.10" height="4.10" fill="#fff" stroke="#fd5a08" stroke-width="1.2"/>
<rect x="191.14" y="496.17" width="4.10" height="4.10" fill="#fff" stroke="#fd5a08" stroke-width="1.2"/>
<rect x="195.02" y="487.20" width="4.10" height="4.10" fill="#fff" stroke="#fd5a08" stroke-width="1.2"/>
<rect x="200.84" y="474.99" width="4.10" height="4.10" fill="#fff" stroke="#fd5a08" stroke-width="1.2"/>
<rect x="212.48" y="438.74" width="4.10" height="4.10" fill="#fff" stroke="#fd5a08" stroke-width="1.2"/>
<rect x="235.76" y="427.41" width="4.10" height="4.10" fill="#fff" stroke="#fd5a08" stroke-width="1.2"/>
<rect x="282.32" y="426.72" width="4.10" height="4.10" fill="#fff" stroke="#fd5a08" stroke-width="1.2"/>
<rect x="328.89" y="426.72" width="4.10" height="4.10" fill="#fff" stroke="#fd5a08" stroke-width="1.2"/>
<rect x="375.45" y="427.61" width="4.10" height="4.10" fill="#fff" stroke="#fd5a08" stroke-width="1.2"/>
<rect x="189.00" y="523.25" width="4.51" height="4.51" fill="#fd5a08"/>
<rect x="190.94" y="474.00" width="4.51" height="4.51" fill="#fd5a08"/>
<rect x="194.82" y="482.86" width="4.51" height="4.51" fill="#fd5a08"/>
<rect x="200.64" y="462.18" width="4.51" height="4.51" fill="#fd5a08"/>
<rect x="212.28" y="432.62" width="4.51" height="4.51" fill="#fd5a08"/>
<rect x="235.56" y="426.72" width="4.51" height="4.51" fill="#fd5a08"/>
<rect x="282.12" y="426.52" width="4.51" height="4.51" fill="#fd5a08"/>
<rect x="328.68" y="426.52" width="4.51" height="4.51" fill="#fd5a08"/>
<rect x="375.25" y="427.21" width="4.51" height="4.51" fill="#fd5a08"/>
<line x1="256.25" y1="483.25" x2="267.75" y2="483.25" stroke="#fd5a08" stroke-width="1.15"/>
<rect x="259.75" y="481.00" width="4.51" height="4.51" fill="#fd5a08"/>
<text x="274.25" y="486.00">100 nmol/L D3S-001</text>
<line x1="256.25" y1="498.25" x2="267.75" y2="498.25" stroke="#fd5a08" stroke-width="1.15" stroke-dasharray="2.6 1.7"/>
<rect x="259.95" y="496.20" width="4.10" height="4.10" fill="#fff" stroke="#fd5a08" stroke-width="1.2"/>
<text x="274.25" y="501.00">100 nmol/L D3S-001 + EGF</text>
<text x="25.80" y="571.80" font-weight="bold" font-size="10">B</text>
<text x="55.50" y="571.00" font-size="7">EGF-stimulated KRAS activation and downstream ERK activation</text>
<text x="137.00" y="589.00" font-size="7">Time (minutes)</text>
<text x="137.00" y="610.00" font-size="7">EGF 40 ng/mL</text>
<text x="137.00" y="642.00" font-size="7">Folds of vehicle</text>
<text x="202.50" y="586.70" text-anchor="middle" font-size="6.3">0</text>
<text x="224.50" y="586.70" text-anchor="middle" font-size="6.3">5</text>
<text x="246.50" y="586.70" text-anchor="middle" font-size="6.3">15</text>
<text x="268.60" y="586.70" text-anchor="middle" font-size="6.3">30</text>
<text x="290.60" y="586.70" text-anchor="middle" font-size="6.3">40</text>
<text x="312.60" y="586.70" text-anchor="middle" font-size="6.3">120</text>
<text x="334.60" y="586.70" text-anchor="middle" font-size="6.3">240</text>
<text x="356.80" y="586.70" text-anchor="middle" font-size="6.3">360</text>
<text x="378.80" y="586.70" text-anchor="middle" font-size="6.3">480</text>
<clipPath id="cb1"><rect x="189.60" y="591.40" width="201.80" height="18.40"/></clipPath>
<rect x="189.60" y="591.40" width="201.80" height="18.40" fill="#f0f0f0"/>
<g clip-path="url(#cb1)">
<ellipse cx="202.90" cy="600.60" rx="9.95" ry="4.25" fill="#000" opacity="0.094" filter="url(#b3)"/>
<rect x="195.15" y="598.75" width="15.50" height="3.70" rx="5.12" ry="1.85" fill="#0a0a0a" opacity="0.72" filter="url(#b1)" transform="rotate(-4 202.90 600.60)"/>
<ellipse cx="225.20" cy="599.10" rx="10.45" ry="4.65" fill="#000" opacity="0.123" filter="url(#b3)"/>
<rect x="216.95" y="596.85" width="16.50" height="4.50" rx="5.45" ry="2.25" fill="#0a0a0a" opacity="0.95" filter="url(#b1)" transform="rotate(-5 225.20 599.10)"/>
<ellipse cx="246.80" cy="598.00" rx="11.20" ry="5.45" fill="#000" opacity="0.130" filter="url(#b3)"/>
<rect x="237.80" y="594.95" width="18.00" height="6.10" rx="5.94" ry="3.05" fill="#0a0a0a" opacity="1" filter="url(#b1)" transform="rotate(-2 246.80 598.00)"/>
<ellipse cx="268.75" cy="597.20" rx="10.45" ry="4.95" fill="#000" opacity="0.130" filter="url(#b3)"/>
<rect x="260.50" y="594.65" width="16.50" height="5.10" rx="5.45" ry="2.55" fill="#0a0a0a" opacity="1" filter="url(#b1)" transform="rotate(-2 268.75 597.20)"/>
<ellipse cx="290.75" cy="596.90" rx="10.70" ry="4.95" fill="#000" opacity="0.130" filter="url(#b3)"/>
<rect x="282.25" y="594.35" width="17.00" height="5.10" rx="5.61" ry="2.55" fill="#0a0a0a" opacity="1" filter="url(#b1)"/>
<ellipse cx="312.50" cy="597.00" rx="10.95" ry="5.15" fill="#000" opacity="0.130" filter="url(#b3)"/>
<rect x="303.75" y="594.25" width="17.50" height="5.50" rx="5.78" ry="2.75" fill="#0a0a0a" opacity="1" filter="url(#b1)" transform="rotate(3 312.50 597.00)"/>
<ellipse cx="334.50" cy="597.80" rx="10.70" ry="4.85" fill="#000" opacity="0.130" filter="url(#b3)"/>
<rect x="326.00" y="595.35" width="17.00" height="4.90" rx="5.61" ry="2.45" fill="#0a0a0a" opacity="1" filter="url(#b1)" transform="rotate(2 334.50 597.80)"/>
<ellipse cx="356.50" cy="598.40" rx="10.70" ry="4.75" fill="#000" opacity="0.130" filter="url(#b3)"/>
<rect x="348.00" y="596.05" width="17.00" height="4.70" rx="5.61" ry="2.35" fill="#0a0a0a" opacity="1" filter="url(#b1)" transform="rotate(2 356.50 598.40)"/>
<ellipse cx="378.50" cy="598.90" rx="10.45" ry="4.65" fill="#000" opacity="0.123" filter="url(#b3)"/>
<rect x="370.25" y="596.65" width="16.50" height="4.50" rx="5.45" ry="2.25" fill="#0a0a0a" opacity="0.95" filter="url(#b1)" transform="rotate(2 378.50 598.90)"/>
</g>
<rect x="189.60" y="591.40" width="201.80" height="18.40" fill="none" stroke="#000" stroke-width="0.9"/>
<clipPath id="cb2"><rect x="189.60" y="612.40" width="201.80" height="17.80"/></clipPath>
<rect x="189.60" y="612.40" width="201.80" height="17.80" fill="#f0f0f0"/>
<g clip-path="url(#cb2)">
<ellipse cx="199.80" cy="622.20" rx="10.00" ry="5.05" fill="#000" opacity="0.130" filter="url(#b3)"/>
<rect x="192.00" y="619.55" width="15.60" height="5.30" rx="5.15" ry="2.65" fill="#0a0a0a" opacity="1" filter="url(#b1)"/>
<ellipse cx="222.60" cy="621.20" rx="9.95" ry="4.55" fill="#000" opacity="0.117" filter="url(#b3)"/>
<rect x="214.85" y="619.05" width="15.50" height="4.30" rx="5.12" ry="2.15" fill="#0a0a0a" opacity="0.9" filter="url(#b1)" transform="rotate(-4 222.60 621.20)"/>
<ellipse cx="244.50" cy="620.30" rx="11.20" ry="5.80" fill="#000" opacity="0.130" filter="url(#b3)"/>
<rect x="235.50" y="616.90" width="18.00" height="6.80" rx="5.94" ry="3.40" fill="#0a0a0a" opacity="1" filter="url(#b1)"/>
<ellipse cx="267.00" cy="620.00" rx="10.70" ry="5.45" fill="#000" opacity="0.130" filter="url(#b3)"/>
<rect x="258.50" y="616.95" width="17.00" height="6.10" rx="5.61" ry="3.05" fill="#0a0a0a" opacity="1" filter="url(#b1)"/>
<ellipse cx="289.50" cy="620.50" rx="10.95" ry="5.45" fill="#000" opacity="0.130" filter="url(#b3)"/>
<rect x="280.75" y="617.45" width="17.50" height="6.10" rx="5.78" ry="3.05" fill="#0a0a0a" opacity="1" filter="url(#b1)"/>
<ellipse cx="310.80" cy="620.60" rx="10.70" ry="5.25" fill="#000" opacity="0.130" filter="url(#b3)"/>
<rect x="302.30" y="617.75" width="17.00" height="5.70" rx="5.61" ry="2.85" fill="#0a0a0a" opacity="1" filter="url(#b1)" transform="rotate(2 310.80 620.60)"/>
<ellipse cx="332.50" cy="621.20" rx="10.70" ry="5.15" fill="#000" opacity="0.130" filter="url(#b3)"/>
<rect x="324.00" y="618.45" width="17.00" height="5.50" rx="5.61" ry="2.75" fill="#0a0a0a" opacity="1" filter="url(#b1)" transform="rotate(2 332.50 621.20)"/>
<ellipse cx="354.30" cy="621.90" rx="11.20" ry="5.45" fill="#000" opacity="0.130" filter="url(#b3)"/>
<rect x="345.30" y="618.85" width="18.00" height="6.10" rx="5.94" ry="3.05" fill="#0a0a0a" opacity="1" filter="url(#b1)" transform="rotate(2 354.30 621.90)"/>
<ellipse cx="377.00" cy="622.60" rx="10.70" ry="5.05" fill="#000" opacity="0.130" filter="url(#b3)"/>
<rect x="368.50" y="619.95" width="17.00" height="5.30" rx="5.61" ry="2.65" fill="#0a0a0a" opacity="1" filter="url(#b1)" transform="rotate(2 377.00 622.60)"/>
</g>
<rect x="189.60" y="612.40" width="201.80" height="17.80" fill="none" stroke="#000" stroke-width="0.9"/>
<rect x="191.15" y="634.20" width="21.40" height="12.20" fill="#fff" stroke="#000" stroke-width="0.9"/>
<text x="201.85" y="642.20" text-anchor="middle" font-size="6.6">1.00</text>
<rect x="213.45" y="634.20" width="21.40" height="12.20" fill="#fff" stroke="#000" stroke-width="0.9"/>
<text x="224.15" y="642.20" text-anchor="middle" font-size="6.6">1.47</text>
<rect x="235.75" y="634.20" width="21.40" height="12.20" fill="#fff" stroke="#000" stroke-width="0.9"/>
<text x="246.45" y="642.20" text-anchor="middle" font-size="6.6">1.34</text>
<rect x="258.05" y="634.20" width="21.40" height="12.20" fill="#fff" stroke="#000" stroke-width="0.9"/>
<text x="268.75" y="642.20" text-anchor="middle" font-size="6.6">1.21</text>
<rect x="280.35" y="634.20" width="21.40" height="12.20" fill="#fff" stroke="#000" stroke-width="0.9"/>
<text x="291.05" y="642.20" text-anchor="middle" font-size="6.6">1.17</text>
<rect x="302.65" y="634.20" width="21.40" height="12.20" fill="#fff" stroke="#000" stroke-width="0.9"/>
<text x="313.35" y="642.20" text-anchor="middle" font-size="6.6">1.45</text>
<rect x="324.95" y="634.20" width="21.40" height="12.20" fill="#fff" stroke="#000" stroke-width="0.9"/>
<text x="335.65" y="642.20" text-anchor="middle" font-size="6.6">1.25</text>
<rect x="347.25" y="634.20" width="21.40" height="12.20" fill="#fff" stroke="#000" stroke-width="0.9"/>
<text x="357.95" y="642.20" text-anchor="middle" font-size="6.6">1.23</text>
<rect x="369.55" y="634.20" width="21.40" height="12.20" fill="#fff" stroke="#000" stroke-width="0.9"/>
<text x="380.25" y="642.20" text-anchor="middle" font-size="6.6">1.12</text>
<text x="399.50" y="605.50" font-size="7">KRAS-GTP</text>
<text x="399.50" y="624.30" font-size="7">KRAS</text>
<text x="227.00" y="663.80" font-size="7">pERK in NCI-H358 cells determined by HTRF</text>
<text x="130.00" y="698.00" font-size="7">Phospho-ERK</text>
<text x="130.00" y="707.00" font-size="7">levels after EGF</text>
<text x="130.00" y="716.30" font-size="7">stimulation:</text>
<line x1="220.64" y1="671.00" x2="220.64" y2="740.50" stroke="#000" stroke-width="0.8" stroke-dasharray="0.9 1.5"/>
<line x1="232.18" y1="671.00" x2="232.18" y2="740.50" stroke="#000" stroke-width="0.8" stroke-dasharray="0.9 1.5"/>
<line x1="255.26" y1="671.00" x2="255.26" y2="740.50" stroke="#000" stroke-width="0.8" stroke-dasharray="0.9 1.5"/>
<line x1="209.10" y1="723.10" x2="393.74" y2="723.10" stroke="#000" stroke-width="0.9" stroke-dasharray="1 1.6"/>
<line x1="211.41" y1="682.56" x2="211.41" y2="696.48" stroke="#f78d4f" stroke-width="0.8"/>
<line x1="210.01" y1="682.56" x2="212.81" y2="682.56" stroke="#f78d4f" stroke-width="0.8"/>
<line x1="210.01" y1="696.48" x2="212.81" y2="696.48" stroke="#f78d4f" stroke-width="0.8"/>
<line x1="214.87" y1="690.56" x2="214.87" y2="705.53" stroke="#f78d4f" stroke-width="0.8"/>
<line x1="213.47" y1="690.56" x2="216.27" y2="690.56" stroke="#f78d4f" stroke-width="0.8"/>
<line x1="213.47" y1="705.53" x2="216.27" y2="705.53" stroke="#f78d4f" stroke-width="0.8"/>
<line x1="220.64" y1="711.09" x2="220.64" y2="718.05" stroke="#f78d4f" stroke-width="0.8"/>
<line x1="219.24" y1="711.09" x2="222.04" y2="711.09" stroke="#f78d4f" stroke-width="0.8"/>
<line x1="219.24" y1="718.05" x2="222.04" y2="718.05" stroke="#f78d4f" stroke-width="0.8"/>
<line x1="232.18" y1="718.92" x2="232.18" y2="723.80" stroke="#f78d4f" stroke-width="0.8"/>
<line x1="230.78" y1="718.92" x2="233.58" y2="718.92" stroke="#f78d4f" stroke-width="0.8"/>
<line x1="230.78" y1="723.80" x2="233.58" y2="723.80" stroke="#f78d4f" stroke-width="0.8"/>
<line x1="255.26" y1="721.88" x2="255.26" y2="725.36" stroke="#f78d4f" stroke-width="0.8"/>
<line x1="253.86" y1="721.88" x2="256.66" y2="721.88" stroke="#f78d4f" stroke-width="0.8"/>
<line x1="253.86" y1="725.36" x2="256.66" y2="725.36" stroke="#f78d4f" stroke-width="0.8"/>
<line x1="301.42" y1="721.36" x2="301.42" y2="726.93" stroke="#f78d4f" stroke-width="0.8"/>
<line x1="300.02" y1="721.36" x2="302.82" y2="721.36" stroke="#f78d4f" stroke-width="0.8"/>
<line x1="300.02" y1="726.93" x2="302.82" y2="726.93" stroke="#f78d4f" stroke-width="0.8"/>
<line x1="347.58" y1="721.19" x2="347.58" y2="726.06" stroke="#f78d4f" stroke-width="0.8"/>
<line x1="346.18" y1="721.19" x2="348.98" y2="721.19" stroke="#f78d4f" stroke-width="0.8"/>
<line x1="346.18" y1="726.06" x2="348.98" y2="726.06" stroke="#f78d4f" stroke-width="0.8"/>
<line x1="393.74" y1="723.10" x2="393.74" y2="729.02" stroke="#f78d4f" stroke-width="0.8"/>
<line x1="392.34" y1="723.10" x2="395.14" y2="723.10" stroke="#f78d4f" stroke-width="0.8"/>
<line x1="392.34" y1="729.02" x2="395.14" y2="729.02" stroke="#f78d4f" stroke-width="0.8"/>
<path d="M209.10 723.10 L211.41 689.52 L214.87 698.04 L220.64 714.57 L232.18 721.36 L255.26 723.62 L301.42 724.14 L347.58 723.62 L393.74 726.06" fill="none" stroke="#fd5a08" stroke-width="1"/>
<circle cx="209.10" cy="723.10" r="1.50" fill="#fd5a08"/>
<circle cx="211.41" cy="689.52" r="1.50" fill="#fd5a08"/>
<circle cx="214.87" cy="698.04" r="1.50" fill="#fd5a08"/>
<circle cx="220.64" cy="714.57" r="1.50" fill="#fd5a08"/>
<circle cx="232.18" cy="721.36" r="1.50" fill="#fd5a08"/>
<circle cx="255.26" cy="723.62" r="1.50" fill="#fd5a08"/>
<circle cx="301.42" cy="724.14" r="1.50" fill="#fd5a08"/>
<circle cx="347.58" cy="723.62" r="1.50" fill="#fd5a08"/>
<circle cx="393.74" cy="726.06" r="1.50" fill="#fd5a08"/>
<path d="M209.10 670.35V740.50H394.29" fill="none" stroke="#000" stroke-width="1.1"/>
<line x1="205.60" y1="740.50" x2="209.10" y2="740.50" stroke="#000" stroke-width="1.1"/>
<text x="202.80" y="743.00" text-anchor="end" font-size="7">0</text>
<line x1="205.60" y1="723.10" x2="209.10" y2="723.10" stroke="#000" stroke-width="1.1"/>
<text x="202.80" y="725.60" text-anchor="end" font-size="7">1</text>
<line x1="205.60" y1="705.70" x2="209.10" y2="705.70" stroke="#000" stroke-width="1.1"/>
<text x="202.80" y="708.20" text-anchor="end" font-size="7">2</text>
<line x1="205.60" y1="688.30" x2="209.10" y2="688.30" stroke="#000" stroke-width="1.1"/>
<text x="202.80" y="690.80" text-anchor="end" font-size="7">3</text>
<line x1="205.60" y1="670.90" x2="209.10" y2="670.90" stroke="#000" stroke-width="1.1"/>
<text x="202.80" y="673.40" text-anchor="end" font-size="7">4</text>
<line x1="209.10" y1="740.50" x2="209.10" y2="744.10" stroke="#000" stroke-width="1.1"/>
<text x="209.10" y="752.00" text-anchor="middle" font-size="7">0</text>
<line x1="220.64" y1="740.50" x2="220.64" y2="744.10" stroke="#000" stroke-width="1.1"/>
<line x1="232.18" y1="740.50" x2="232.18" y2="744.10" stroke="#000" stroke-width="1.1"/>
<text x="232.18" y="752.00" text-anchor="middle" font-size="7">1</text>
<line x1="255.26" y1="740.50" x2="255.26" y2="744.10" stroke="#000" stroke-width="1.1"/>
<text x="255.26" y="752.00" text-anchor="middle" font-size="7">2</text>
<line x1="278.34" y1="740.50" x2="278.34" y2="744.10" stroke="#000" stroke-width="1.1"/>
<text x="278.34" y="752.00" text-anchor="middle" font-size="7">3</text>
<line x1="301.42" y1="740.50" x2="301.42" y2="744.10" stroke="#000" stroke-width="1.1"/>
<text x="301.42" y="752.00" text-anchor="middle" font-size="7">4</text>
<line x1="324.50" y1="740.50" x2="324.50" y2="744.10" stroke="#000" stroke-width="1.1"/>
<text x="324.50" y="752.00" text-anchor="middle" font-size="7">5</text>
<line x1="347.58" y1="740.50" x2="347.58" y2="744.10" stroke="#000" stroke-width="1.1"/>
<text x="347.58" y="752.00" text-anchor="middle" font-size="7">6</text>
<line x1="370.66" y1="740.50" x2="370.66" y2="744.10" stroke="#000" stroke-width="1.1"/>
<text x="370.66" y="752.00" text-anchor="middle" font-size="7">7</text>
<line x1="393.74" y1="740.50" x2="393.74" y2="744.10" stroke="#000" stroke-width="1.1"/>
<text x="393.74" y="752.00" text-anchor="middle" font-size="7">8</text>
<text x="301.50" y="763.30" text-anchor="middle" font-size="7">Time (hours)</text>
<text x="193.00" y="706.00" text-anchor="middle" font-size="7" transform="rotate(-90 193.00 706.00)">ERK Activity</text>
<line x1="334.00" y1="691.00" x2="342.40" y2="691.00" stroke="#fd5a08" stroke-width="1"/>
<circle cx="338.20" cy="691.00" r="1.50" fill="#fd5a08"/>
<text x="347.00" y="693.50" font-size="7">EGF 40 ng/mL</text>
<text x="367.50" y="720.20" font-size="7">Baseline</text>
<text x="25.80" y="783.40" font-weight="bold" font-size="10">C</text>
<text x="37.00" y="783.00" font-size="7">Target engagement of KRAS G12C inhibitors in the presence of EGF or HGF stimulation</text>
<text x="58.75" y="808.00" text-anchor="middle" font-size="7">DMSO</text>
<text x="103.75" y="800.00" text-anchor="middle" font-size="7">D3S-001</text>
<text x="103.75" y="808.00" text-anchor="middle" font-size="7">(100 nmol/L)</text>
<text x="149.50" y="800.00" text-anchor="middle" font-size="7">Sotorasib</text>
<text x="149.50" y="808.00" text-anchor="middle" font-size="7">(100 nmol/L)</text>
<text x="194.50" y="800.00" text-anchor="middle" font-size="7">Adagrasib</text>
<text x="194.50" y="808.00" text-anchor="middle" font-size="7">(100 nmol/L)</text>
<line x1="37.80" y1="813.60" x2="75.70" y2="813.60" stroke="#000" stroke-width="1.6"/>
<line x1="84.40" y1="813.60" x2="122.00" y2="813.60" stroke="#000" stroke-width="1.6"/>
<line x1="130.75" y1="813.60" x2="168.00" y2="813.60" stroke="#000" stroke-width="1.6"/>
<line x1="177.50" y1="813.60" x2="214.60" y2="813.60" stroke="#000" stroke-width="1.6"/>
<text x="46.25" y="822.75" text-anchor="middle" font-size="6.2">−</text>
<text x="68.75" y="822.75" text-anchor="middle" font-size="6.2">+</text>
<text x="91.25" y="822.75" text-anchor="middle" font-size="6.2">−</text>
<text x="113.75" y="822.75" text-anchor="middle" font-size="6.2">+</text>
<text x="136.25" y="822.75" text-anchor="middle" font-size="6.2">−</text>
<text x="158.75" y="822.75" text-anchor="middle" font-size="6.2">+</text>
<text x="181.25" y="822.75" text-anchor="middle" font-size="6.2">−</text>
<text x="203.75" y="822.75" text-anchor="middle" font-size="6.2">+</text>
<clipPath id="cl1"><rect x="35.55" y="825.85" width="184.00" height="16.00"/></clipPath>
<rect x="35.55" y="825.85" width="184.00" height="16.00" fill="#f0f0f0"/>
<g clip-path="url(#cl1)">
<ellipse cx="47.75" cy="834.90" rx="11.45" ry="5.25" fill="#000" opacity="0.130" filter="url(#b3)"/>
<rect x="38.50" y="832.05" width="18.50" height="5.70" rx="6.11" ry="2.85" fill="#0a0a0a" opacity="1" filter="url(#b1)"/>
<ellipse cx="70.40" cy="834.90" rx="11.60" ry="5.25" fill="#000" opacity="0.130" filter="url(#b3)"/>
<rect x="61.00" y="832.05" width="18.80" height="5.70" rx="6.20" ry="2.85" fill="#0a0a0a" opacity="1" filter="url(#b1)"/>
<rect x="131.10" y="832.55" width="4.00" height="2.10" rx="1.32" ry="1.05" fill="#0a0a0a" opacity="0.22" filter="url(#b2)"/>
<rect x="142.50" y="832.05" width="3.00" height="2.30" rx="0.99" ry="1.15" fill="#0a0a0a" opacity="0.28" filter="url(#b2)"/>
<ellipse cx="160.10" cy="833.00" rx="10.85" ry="5.25" fill="#000" opacity="0.130" filter="url(#b3)"/>
<rect x="151.45" y="830.15" width="17.30" height="5.70" rx="5.71" ry="2.85" fill="#0a0a0a" opacity="1" filter="url(#b1)"/>
<rect x="174.35" y="831.55" width="16.30" height="2.90" rx="5.38" ry="1.45" fill="#0a0a0a" opacity="0.8" filter="url(#b1)"/>
<ellipse cx="204.90" cy="832.60" rx="11.10" ry="5.90" fill="#000" opacity="0.130" filter="url(#b3)"/>
<rect x="196.00" y="829.10" width="17.80" height="7.00" rx="5.87" ry="3.50" fill="#0a0a0a" opacity="1" filter="url(#b1)"/>
</g>
<rect x="35.55" y="825.85" width="184.00" height="16.00" fill="none" stroke="#000" stroke-width="0.9"/>
<clipPath id="cl2"><rect x="35.55" y="847.45" width="184.90" height="18.00"/></clipPath>
<rect x="35.55" y="847.45" width="184.90" height="18.00" fill="#f0f0f0"/>
<g clip-path="url(#cl2)">
<ellipse cx="47.60" cy="859.10" rx="11.35" ry="5.55" fill="#000" opacity="0.130" filter="url(#b3)"/>
<rect x="38.45" y="855.95" width="18.30" height="6.30" rx="6.04" ry="3.15" fill="#0a0a0a" opacity="1" filter="url(#b1)"/>
<ellipse cx="70.75" cy="859.10" rx="11.20" ry="5.55" fill="#000" opacity="0.130" filter="url(#b3)"/>
<rect x="61.75" y="855.95" width="18.00" height="6.30" rx="5.94" ry="3.15" fill="#0a0a0a" opacity="1" filter="url(#b1)"/>
<ellipse cx="94.40" cy="854.20" rx="10.95" ry="5.15" fill="#000" opacity="0.130" filter="url(#b3)"/>
<rect x="85.65" y="851.45" width="17.50" height="5.50" rx="5.78" ry="2.75" fill="#0a0a0a" opacity="1" filter="url(#b1)"/>
<rect x="86.40" y="857.95" width="16.00" height="3.10" rx="5.28" ry="1.55" fill="#0a0a0a" opacity="0.4" filter="url(#b1)"/>
<ellipse cx="117.10" cy="854.20" rx="10.80" ry="5.15" fill="#000" opacity="0.130" filter="url(#b3)"/>
<rect x="108.50" y="851.45" width="17.20" height="5.50" rx="5.68" ry="2.75" fill="#0a0a0a" opacity="1" filter="url(#b1)"/>
<rect x="109.10" y="857.95" width="16.00" height="3.10" rx="5.28" ry="1.55" fill="#0a0a0a" opacity="0.4" filter="url(#b1)"/>
<ellipse cx="139.80" cy="853.90" rx="10.60" ry="5.25" fill="#000" opacity="0.130" filter="url(#b3)"/>
<rect x="131.40" y="851.05" width="16.80" height="5.70" rx="5.54" ry="2.85" fill="#0a0a0a" opacity="1" filter="url(#b1)"/>
<rect x="131.80" y="857.85" width="16.00" height="3.30" rx="5.28" ry="1.65" fill="#0a0a0a" opacity="0.5" filter="url(#b1)"/>
<ellipse cx="162.10" cy="854.20" rx="10.45" ry="4.95" fill="#000" opacity="0.130" filter="url(#b3)"/>
<rect x="153.85" y="851.65" width="16.50" height="5.10" rx="5.45" ry="2.55" fill="#0a0a0a" opacity="1" filter="url(#b1)"/>
<ellipse cx="162.10" cy="860.10" rx="10.60" ry="5.05" fill="#000" opacity="0.130" filter="url(#b3)"/>
<rect x="153.70" y="857.45" width="16.80" height="5.30" rx="5.54" ry="2.65" fill="#0a0a0a" opacity="1" filter="url(#b1)"/>
<ellipse cx="185.00" cy="857.60" rx="10.00" ry="5.75" fill="#000" opacity="0.123" filter="url(#b3)"/>
<rect x="177.20" y="854.25" width="15.60" height="6.70" rx="5.15" ry="3.35" fill="#0a0a0a" opacity="0.95" filter="url(#b1)"/>
<ellipse cx="207.50" cy="859.50" rx="10.70" ry="6.55" fill="#000" opacity="0.130" filter="url(#b3)"/>
<rect x="199.00" y="855.35" width="17.00" height="8.30" rx="5.61" ry="4.15" fill="#0a0a0a" opacity="1" filter="url(#b1)"/>
</g>
<rect x="35.55" y="847.45" width="184.90" height="18.00" fill="none" stroke="#000" stroke-width="0.9"/>
<text x="227.00" y="822.00" font-size="7">EGF</text>
<text x="227.00" y="840.80" font-size="7">KRAS-GTP</text>
<text x="227.00" y="860.00" font-size="7">KRAS</text>
<text x="291.25" y="808.00" text-anchor="middle" font-size="7">DMSO</text>
<text x="336.25" y="800.00" text-anchor="middle" font-size="7">D3S-001</text>
<text x="336.25" y="808.00" text-anchor="middle" font-size="7">(100 nmol/L)</text>
<text x="381.40" y="800.00" text-anchor="middle" font-size="7">Sotorasib</text>
<text x="381.40" y="808.00" text-anchor="middle" font-size="7">(100 nmol/L)</text>
<text x="426.60" y="800.00" text-anchor="middle" font-size="7">Adagrasib</text>
<text x="426.60" y="808.00" text-anchor="middle" font-size="7">(100 nmol/L)</text>
<line x1="271.75" y1="813.60" x2="309.30" y2="813.60" stroke="#000" stroke-width="1.6"/>
<line x1="318.20" y1="813.60" x2="355.50" y2="813.60" stroke="#000" stroke-width="1.6"/>
<line x1="364.50" y1="813.60" x2="401.25" y2="813.60" stroke="#000" stroke-width="1.6"/>
<line x1="411.00" y1="813.60" x2="448.75" y2="813.60" stroke="#000" stroke-width="1.6"/>
<text x="280.00" y="822.75" text-anchor="middle" font-size="6.2">−</text>
<text x="302.50" y="822.75" text-anchor="middle" font-size="6.2">+</text>
<text x="325.00" y="822.75" text-anchor="middle" font-size="6.2">−</text>
<text x="347.50" y="822.75" text-anchor="middle" font-size="6.2">+</text>
<text x="370.00" y="822.75" text-anchor="middle" font-size="6.2">−</text>
<text x="392.50" y="822.75" text-anchor="middle" font-size="6.2">+</text>
<text x="415.00" y="822.75" text-anchor="middle" font-size="6.2">−</text>
<text x="437.50" y="822.75" text-anchor="middle" font-size="6.2">+</text>
<clipPath id="cr1"><rect x="267.55" y="825.85" width="183.60" height="17.20"/></clipPath>
<rect x="267.55" y="825.85" width="183.60" height="17.20" fill="#f0f0f0"/>
<g clip-path="url(#cr1)">
<ellipse cx="280.10" cy="834.50" rx="12.05" ry="4.95" fill="#000" opacity="0.130" filter="url(#b3)"/>
<rect x="270.25" y="831.95" width="19.70" height="5.10" rx="6.50" ry="2.55" fill="#0a0a0a" opacity="1" filter="url(#b1)"/>
<ellipse cx="302.60" cy="833.50" rx="11.70" ry="6.15" fill="#000" opacity="0.130" filter="url(#b3)"/>
<rect x="293.10" y="829.75" width="19.00" height="7.50" rx="6.27" ry="3.75" fill="#0a0a0a" opacity="1" filter="url(#b1)"/>
<rect x="361.85" y="832.75" width="16.50" height="2.70" rx="5.45" ry="1.35" fill="#0a0a0a" opacity="0.3" filter="url(#b1)"/>
<ellipse cx="392.60" cy="834.10" rx="11.35" ry="4.95" fill="#000" opacity="0.130" filter="url(#b3)"/>
<rect x="383.45" y="831.55" width="18.30" height="5.10" rx="6.04" ry="2.55" fill="#0a0a0a" opacity="1" filter="url(#b1)"/>
<rect x="407.00" y="832.90" width="16.50" height="2.70" rx="5.45" ry="1.35" fill="#0a0a0a" opacity="0.33" filter="url(#b1)"/>
<ellipse cx="437.60" cy="834.25" rx="11.60" ry="5.90" fill="#000" opacity="0.130" filter="url(#b3)"/>
<rect x="428.20" y="830.75" width="18.80" height="7.00" rx="6.20" ry="3.50" fill="#0a0a0a" opacity="1" filter="url(#b1)"/>
</g>
<rect x="267.55" y="825.85" width="183.60" height="17.20" fill="none" stroke="#000" stroke-width="0.9"/>
<clipPath id="cr2"><rect x="267.55" y="847.45" width="183.60" height="17.90"/></clipPath>
<rect x="267.55" y="847.45" width="183.60" height="17.90" fill="#f0f0f0"/>
<g clip-path="url(#cr2)">
<ellipse cx="281.50" cy="857.25" rx="11.60" ry="5.40" fill="#000" opacity="0.130" filter="url(#b3)"/>
<rect x="272.10" y="854.25" width="18.80" height="6.00" rx="6.20" ry="3.00" fill="#0a0a0a" opacity="1" filter="url(#b1)"/>
<ellipse cx="303.80" cy="857.25" rx="11.40" ry="5.40" fill="#000" opacity="0.130" filter="url(#b3)"/>
<rect x="294.60" y="854.25" width="18.40" height="6.00" rx="6.07" ry="3.00" fill="#0a0a0a" opacity="1" filter="url(#b1)"/>
<ellipse cx="326.75" cy="853.25" rx="10.95" ry="4.90" fill="#000" opacity="0.130" filter="url(#b3)"/>
<rect x="318.00" y="850.75" width="17.50" height="5.00" rx="5.78" ry="2.50" fill="#0a0a0a" opacity="1" filter="url(#b1)"/>
<rect x="319.00" y="856.90" width="15.50" height="2.80" rx="5.12" ry="1.40" fill="#0a0a0a" opacity="0.3" filter="url(#b1)"/>
<ellipse cx="349.60" cy="853.90" rx="11.10" ry="4.65" fill="#000" opacity="0.130" filter="url(#b3)"/>
<rect x="340.70" y="851.65" width="17.80" height="4.50" rx="5.87" ry="2.25" fill="#0a0a0a" opacity="1" filter="url(#b1)" transform="rotate(4 349.60 853.90)"/>
<rect x="341.85" y="857.20" width="15.50" height="2.80" rx="5.12" ry="1.40" fill="#0a0a0a" opacity="0.3" filter="url(#b1)"/>
<ellipse cx="372.30" cy="853.00" rx="10.70" ry="4.65" fill="#000" opacity="0.130" filter="url(#b3)"/>
<rect x="363.80" y="850.75" width="17.00" height="4.50" rx="5.61" ry="2.25" fill="#0a0a0a" opacity="1" filter="url(#b1)" transform="rotate(-4 372.30 853.00)"/>
<ellipse cx="372.30" cy="857.90" rx="10.45" ry="4.05" fill="#000" opacity="0.072" filter="url(#b3)"/>
<rect x="364.05" y="856.25" width="16.50" height="3.30" rx="5.45" ry="1.65" fill="#0a0a0a" opacity="0.55" filter="url(#b1)"/>
<ellipse cx="394.25" cy="853.30" rx="10.95" ry="4.55" fill="#000" opacity="0.130" filter="url(#b3)"/>
<rect x="385.50" y="851.15" width="17.50" height="4.30" rx="5.78" ry="2.15" fill="#0a0a0a" opacity="1" filter="url(#b1)"/>
<ellipse cx="394.25" cy="857.80" rx="11.10" ry="5.25" fill="#000" opacity="0.130" filter="url(#b3)"/>
<rect x="385.35" y="854.95" width="17.80" height="5.70" rx="5.87" ry="2.85" fill="#0a0a0a" opacity="1" filter="url(#b1)"/>
<ellipse cx="416.60" cy="855.75" rx="10.80" ry="6.05" fill="#000" opacity="0.130" filter="url(#b3)"/>
<rect x="408.00" y="852.10" width="17.20" height="7.30" rx="5.68" ry="3.65" fill="#0a0a0a" opacity="1" filter="url(#b1)"/>
<ellipse cx="438.90" cy="856.40" rx="11.35" ry="6.35" fill="#000" opacity="0.130" filter="url(#b3)"/>
<rect x="429.75" y="852.45" width="18.30" height="7.90" rx="6.04" ry="3.95" fill="#0a0a0a" opacity="1" filter="url(#b1)"/>
</g>
<rect x="267.55" y="847.45" width="183.60" height="17.90" fill="none" stroke="#000" stroke-width="0.9"/>
<text x="458.00" y="822.00" font-size="7">HGF</text>
<text x="458.00" y="840.80" font-size="7">KRAS-GTP</text>
<text x="458.00" y="860.00" font-size="7">KRAS</text>
<text x="136.50" y="890.50" text-anchor="middle" font-size="7">Percentage of active KRAS remained in NCI-H358 cells</text>
<text x="136.50" y="899.00" text-anchor="middle" font-size="7">determined by pull-down assay</text>
<rect x="81.25" y="931.74" width="8.75" height="47.76" fill="#007ebf"/>
<rect x="92.25" y="927.23" width="8.75" height="52.27" fill="#003d7c"/>
<rect x="111.70" y="978.92" width="8.75" height="0.58" fill="#007ebf"/>
<rect x="142.10" y="974.51" width="8.75" height="4.99" fill="#007ebf"/>
<rect x="153.10" y="951.23" width="8.75" height="28.27" fill="#003d7c"/>
<rect x="172.60" y="959.48" width="8.75" height="20.02" fill="#007ebf"/>
<rect x="183.60" y="937.98" width="8.75" height="41.52" fill="#003d7c"/>
<path d="M74.50 907.05V979.50H198.80" fill="none" stroke="#000" stroke-width="0.9"/>
<line x1="71.50" y1="979.50" x2="74.50" y2="979.50" stroke="#000" stroke-width="0.9"/>
<text x="69.70" y="982.00" text-anchor="end" font-size="7">0</text>
<line x1="71.50" y1="955.50" x2="74.50" y2="955.50" stroke="#000" stroke-width="0.9"/>
<text x="69.70" y="958.00" text-anchor="end" font-size="7">50</text>
<line x1="71.50" y1="931.50" x2="74.50" y2="931.50" stroke="#000" stroke-width="0.9"/>
<text x="69.70" y="934.00" text-anchor="end" font-size="7">100</text>
<line x1="71.50" y1="907.50" x2="74.50" y2="907.50" stroke="#000" stroke-width="0.9"/>
<text x="69.70" y="910.00" text-anchor="end" font-size="7">150</text>
<line x1="91.25" y1="979.50" x2="91.25" y2="982.90" stroke="#000" stroke-width="0.9"/>
<line x1="121.70" y1="979.50" x2="121.70" y2="982.90" stroke="#000" stroke-width="0.9"/>
<line x1="152.10" y1="979.50" x2="152.10" y2="982.90" stroke="#000" stroke-width="0.9"/>
<line x1="182.60" y1="979.50" x2="182.60" y2="982.90" stroke="#000" stroke-width="0.9"/>
<text x="43.00" y="943.50" text-anchor="middle" font-size="7" transform="rotate(-90 43.00 943.50)">Percentage of active</text>
<text x="51.70" y="943.50" text-anchor="middle" font-size="7" transform="rotate(-90 51.70 943.50)">KRAS (%)</text>
<rect x="152.50" y="909.00" width="7.50" height="3.20" fill="#007ebf"/>
<text x="163.25" y="912.50" font-size="7">without EGF</text>
<rect x="152.50" y="918.20" width="7.50" height="3.20" fill="#003d7c"/>
<text x="163.25" y="922.00" font-size="7">with EGF</text>
<text x="91.25" y="990.50" text-anchor="middle" font-size="7">DMSO</text>
<text x="121.70" y="990.50" text-anchor="middle" font-size="7">D3S-001</text>
<text x="121.70" y="998.80" text-anchor="middle" font-size="7">(100</text>
<text x="121.70" y="1007.00" text-anchor="middle" font-size="7">nmol/L)</text>
<text x="152.10" y="990.50" text-anchor="middle" font-size="7">Sotorasib</text>
<text x="152.10" y="998.80" text-anchor="middle" font-size="7">(100</text>
<text x="152.10" y="1007.00" text-anchor="middle" font-size="7">nmol/L)</text>
<text x="182.60" y="990.50" text-anchor="middle" font-size="7">Adagrasib</text>
<text x="182.60" y="998.80" text-anchor="middle" font-size="7">(100</text>
<text x="182.60" y="1007.00" text-anchor="middle" font-size="7">nmol/L)</text>
<text x="366.50" y="890.50" text-anchor="middle" font-size="7">Percentage of active KRAS remained in NCI-H358 cells</text>
<text x="366.50" y="899.00" text-anchor="middle" font-size="7">determined by pull-down assay</text>
<rect x="311.25" y="943.75" width="8.75" height="35.75" fill="#109ab3"/>
<rect x="322.25" y="919.99" width="8.75" height="59.51" fill="#064b5f"/>
<rect x="341.70" y="978.24" width="8.75" height="1.26" fill="#109ab3"/>
<rect x="352.70" y="977.74" width="8.75" height="1.76" fill="#064b5f"/>
<rect x="372.10" y="969.49" width="8.75" height="10.01" fill="#109ab3"/>
<rect x="383.10" y="953.26" width="8.75" height="26.24" fill="#064b5f"/>
<rect x="402.60" y="972.01" width="8.75" height="7.49" fill="#109ab3"/>
<rect x="413.60" y="937.49" width="8.75" height="42.01" fill="#064b5f"/>
<path d="M304.50 907.05V979.50H428.80" fill="none" stroke="#000" stroke-width="0.9"/>
<line x1="301.50" y1="979.50" x2="304.50" y2="979.50" stroke="#000" stroke-width="0.9"/>
<text x="299.70" y="982.00" text-anchor="end" font-size="7">0</text>
<line x1="301.50" y1="961.50" x2="304.50" y2="961.50" stroke="#000" stroke-width="0.9"/>
<text x="299.70" y="964.00" text-anchor="end" font-size="7">50</text>
<line x1="301.50" y1="943.50" x2="304.50" y2="943.50" stroke="#000" stroke-width="0.9"/>
<text x="299.70" y="946.00" text-anchor="end" font-size="7">100</text>
<line x1="301.50" y1="925.50" x2="304.50" y2="925.50" stroke="#000" stroke-width="0.9"/>
<text x="299.70" y="928.00" text-anchor="end" font-size="7">150</text>
<line x1="301.50" y1="907.50" x2="304.50" y2="907.50" stroke="#000" stroke-width="0.9"/>
<text x="299.70" y="910.00" text-anchor="end" font-size="7">200</text>
<line x1="321.25" y1="979.50" x2="321.25" y2="982.90" stroke="#000" stroke-width="0.9"/>
<line x1="351.70" y1="979.50" x2="351.70" y2="982.90" stroke="#000" stroke-width="0.9"/>
<line x1="382.10" y1="979.50" x2="382.10" y2="982.90" stroke="#000" stroke-width="0.9"/>
<line x1="412.60" y1="979.50" x2="412.60" y2="982.90" stroke="#000" stroke-width="0.9"/>
<text x="273.00" y="943.50" text-anchor="middle" font-size="7" transform="rotate(-90 273.00 943.50)">Percentage of active</text>
<text x="281.70" y="943.50" text-anchor="middle" font-size="7" transform="rotate(-90 281.70 943.50)">KRAS (%)</text>
<rect x="384.25" y="910.40" width="7.50" height="3.20" fill="#109ab3"/>
<text x="395.00" y="914.20" font-size="7">without HGF</text>
<rect x="384.25" y="919.40" width="7.50" height="3.20" fill="#064b5f"/>
<text x="395.00" y="923.00" font-size="7">with HGF</text>
<text x="321.25" y="990.50" text-anchor="middle" font-size="7">DMSO</text>
<text x="351.70" y="990.50" text-anchor="middle" font-size="7">D3S-001</text>
<text x="351.70" y="998.80" text-anchor="middle" font-size="7">(100</text>
<text x="351.70" y="1007.00" text-anchor="middle" font-size="7">nmol/L)</text>
<text x="382.10" y="990.50" text-anchor="middle" font-size="7">Sotorasib</text>
<text x="382.10" y="998.80" text-anchor="middle" font-size="7">(100</text>
<text x="382.10" y="1007.00" text-anchor="middle" font-size="7">nmol/L)</text>
<text x="412.60" y="990.50" text-anchor="middle" font-size="7">Adagrasib</text>
<text x="412.60" y="998.80" text-anchor="middle" font-size="7">(100</text>
<text x="412.60" y="1007.00" text-anchor="middle" font-size="7">nmol/L)</text>
<text x="171.25" y="1030.00" text-anchor="middle" font-size="7">DMSO</text>
<text x="216.25" y="1021.80" text-anchor="middle" font-size="7">D3S-001</text>
<text x="216.25" y="1030.00" text-anchor="middle" font-size="7">(40 nmol/L)</text>
<text x="261.30" y="1021.80" text-anchor="middle" font-size="7">Sotorasib</text>
<text x="261.30" y="1030.00" text-anchor="middle" font-size="7">(30 nmol/L)</text>
<text x="307.00" y="1021.80" text-anchor="middle" font-size="7">Adagrasib</text>
<text x="307.00" y="1030.00" text-anchor="middle" font-size="7">(80 nmol/L)</text>
<line x1="150.75" y1="1034.60" x2="188.30" y2="1034.60" stroke="#000" stroke-width="1.6"/>
<line x1="197.30" y1="1034.60" x2="235.50" y2="1034.60" stroke="#000" stroke-width="1.6"/>
<line x1="243.75" y1="1034.60" x2="281.25" y2="1034.60" stroke="#000" stroke-width="1.6"/>
<line x1="290.00" y1="1034.60" x2="328.00" y2="1034.60" stroke="#000" stroke-width="1.6"/>
<text x="163.00" y="1043.95" text-anchor="middle" font-size="6.2">−</text>
<text x="185.50" y="1043.95" text-anchor="middle" font-size="6.2">+</text>
<text x="208.00" y="1043.95" text-anchor="middle" font-size="6.2">−</text>
<text x="230.50" y="1043.95" text-anchor="middle" font-size="6.2">+</text>
<text x="253.00" y="1043.95" text-anchor="middle" font-size="6.2">−</text>
<text x="275.50" y="1043.95" text-anchor="middle" font-size="6.2">+</text>
<text x="298.00" y="1043.95" text-anchor="middle" font-size="6.2">−</text>
<text x="320.50" y="1043.95" text-anchor="middle" font-size="6.2">+</text>
<clipPath id="cm1"><rect x="151.05" y="1046.70" width="182.40" height="15.30"/></clipPath>
<rect x="151.05" y="1046.70" width="182.40" height="15.30" fill="#f0f0f0"/>
<g clip-path="url(#cm1)">
<ellipse cx="165.40" cy="1054.10" rx="11.60" ry="5.55" fill="#000" opacity="0.130" filter="url(#b3)"/>
<rect x="156.00" y="1050.95" width="18.80" height="6.30" rx="6.20" ry="3.15" fill="#0a0a0a" opacity="1" filter="url(#b1)"/>
<ellipse cx="188.40" cy="1054.10" rx="11.10" ry="5.45" fill="#000" opacity="0.130" filter="url(#b3)"/>
<rect x="179.50" y="1051.05" width="17.80" height="6.10" rx="5.87" ry="3.05" fill="#0a0a0a" opacity="1" filter="url(#b1)"/>
<rect x="205.50" y="1052.50" width="3.00" height="2.00" rx="0.99" ry="1.00" fill="#0a0a0a" opacity="0.12" filter="url(#b2)"/>
<rect x="212.90" y="1052.50" width="3.00" height="2.00" rx="0.99" ry="1.00" fill="#0a0a0a" opacity="0.12" filter="url(#b2)"/>
<rect x="225.70" y="1052.20" width="14.00" height="2.60" rx="4.62" ry="1.30" fill="#0a0a0a" opacity="0.3" filter="url(#b1)"/>
<ellipse cx="255.00" cy="1053.90" rx="10.35" ry="4.60" fill="#000" opacity="0.130" filter="url(#b3)"/>
<rect x="246.85" y="1051.70" width="16.30" height="4.40" rx="5.38" ry="2.20" fill="#0a0a0a" opacity="1" filter="url(#b1)"/>
<ellipse cx="276.90" cy="1053.60" rx="10.95" ry="5.70" fill="#000" opacity="0.130" filter="url(#b3)"/>
<rect x="268.15" y="1050.30" width="17.50" height="6.60" rx="5.78" ry="3.30" fill="#0a0a0a" opacity="1" filter="url(#b1)"/>
<rect x="291.50" y="1052.15" width="15.00" height="2.70" rx="4.95" ry="1.35" fill="#0a0a0a" opacity="0.92" filter="url(#b1)"/>
<ellipse cx="321.75" cy="1053.25" rx="10.45" ry="4.70" fill="#000" opacity="0.130" filter="url(#b3)"/>
<rect x="313.50" y="1050.95" width="16.50" height="4.60" rx="5.45" ry="2.30" fill="#0a0a0a" opacity="1" filter="url(#b1)"/>
</g>
<rect x="151.05" y="1046.70" width="182.40" height="15.30" fill="none" stroke="#333" stroke-width="0.7"/>
<clipPath id="cm2"><rect x="150.25" y="1067.45" width="184.00" height="17.50"/></clipPath>
<rect x="150.25" y="1067.45" width="184.00" height="17.50" fill="#f0f0f0"/>
<g clip-path="url(#cm2)">
<ellipse cx="163.40" cy="1078.00" rx="11.70" ry="4.65" fill="#000" opacity="0.096" filter="url(#b3)"/>
<rect x="153.90" y="1075.75" width="19.00" height="4.50" rx="6.27" ry="2.25" fill="#0a0a0a" opacity="0.74" filter="url(#b1)" transform="rotate(-3 163.40 1078.00)"/>
<ellipse cx="186.70" cy="1077.00" rx="11.20" ry="4.70" fill="#000" opacity="0.096" filter="url(#b3)"/>
<rect x="177.70" y="1074.70" width="18.00" height="4.60" rx="5.94" ry="2.30" fill="#0a0a0a" opacity="0.74" filter="url(#b1)" transform="rotate(-2 186.70 1077.00)"/>
<ellipse cx="209.00" cy="1074.25" rx="10.70" ry="5.25" fill="#000" opacity="0.094" filter="url(#b3)"/>
<rect x="200.50" y="1071.40" width="17.00" height="5.70" rx="5.61" ry="2.85" fill="#0a0a0a" opacity="0.72" filter="url(#b1)"/>
<ellipse cx="231.40" cy="1074.50" rx="10.85" ry="5.55" fill="#000" opacity="0.096" filter="url(#b3)"/>
<rect x="222.75" y="1071.35" width="17.30" height="6.30" rx="5.71" ry="3.15" fill="#0a0a0a" opacity="0.74" filter="url(#b1)"/>
<ellipse cx="253.60" cy="1075.75" rx="11.10" ry="5.75" fill="#000" opacity="0.099" filter="url(#b3)"/>
<rect x="244.70" y="1072.40" width="17.80" height="6.70" rx="5.87" ry="3.35" fill="#0a0a0a" opacity="0.76" filter="url(#b1)"/>
<ellipse cx="275.80" cy="1077.25" rx="11.15" ry="4.65" fill="#000" opacity="0.096" filter="url(#b3)"/>
<rect x="266.85" y="1075.00" width="17.90" height="4.50" rx="5.91" ry="2.25" fill="#0a0a0a" opacity="0.74" filter="url(#b1)"/>
<ellipse cx="298.10" cy="1076.75" rx="10.95" ry="5.25" fill="#000" opacity="0.096" filter="url(#b3)"/>
<rect x="289.35" y="1073.90" width="17.50" height="5.70" rx="5.78" ry="2.85" fill="#0a0a0a" opacity="0.74" filter="url(#b1)"/>
<ellipse cx="321.10" cy="1078.00" rx="11.40" ry="4.75" fill="#000" opacity="0.096" filter="url(#b3)"/>
<rect x="311.90" y="1075.65" width="18.40" height="4.70" rx="6.07" ry="2.35" fill="#0a0a0a" opacity="0.74" filter="url(#b1)"/>
</g>
<rect x="150.25" y="1067.45" width="184.00" height="17.50" fill="none" stroke="#000" stroke-width="0.9"/>
<text x="343.75" y="1043.30" font-size="7">EGF</text>
<text x="343.75" y="1061.30" font-size="7">KRAS-GTP</text>
<text x="343.75" y="1080.50" font-size="7">KRAS</text>
<text x="252.50" y="1107.50" text-anchor="middle" font-size="7">Percentage of active KRAS remained in NCI-H358 cells</text>
<text x="252.50" y="1115.80" text-anchor="middle" font-size="7">determined by pull-down assay</text>
<rect x="194.75" y="1148.80" width="9.10" height="47.40" fill="#007ebf"/>
<rect x="206.00" y="1150.81" width="9.10" height="45.39" fill="#003d7c"/>
<rect x="227.05" y="1195.72" width="9.10" height="0.48" fill="#007ebf"/>
<rect x="238.30" y="1193.68" width="9.10" height="2.52" fill="#003d7c"/>
<rect x="259.25" y="1171.43" width="9.10" height="24.77" fill="#007ebf"/>
<rect x="270.50" y="1155.85" width="9.10" height="40.35" fill="#003d7c"/>
<rect x="291.55" y="1183.91" width="9.10" height="12.29" fill="#007ebf"/>
<rect x="302.80" y="1173.91" width="9.10" height="22.29" fill="#003d7c"/>
<path d="M189.60 1124.30V1196.20H317.00" fill="none" stroke="#000" stroke-width="0.9"/>
<line x1="186.60" y1="1196.20" x2="189.60" y2="1196.20" stroke="#000" stroke-width="0.9"/>
<text x="184.80" y="1198.70" text-anchor="end" font-size="7">0</text>
<line x1="186.60" y1="1172.38" x2="189.60" y2="1172.38" stroke="#000" stroke-width="0.9"/>
<text x="184.80" y="1174.88" text-anchor="end" font-size="7">50</text>
<line x1="186.60" y1="1148.57" x2="189.60" y2="1148.57" stroke="#000" stroke-width="0.9"/>
<text x="184.80" y="1151.07" text-anchor="end" font-size="7">100</text>
<line x1="186.60" y1="1124.75" x2="189.60" y2="1124.75" stroke="#000" stroke-width="0.9"/>
<text x="184.80" y="1127.25" text-anchor="end" font-size="7">150</text>
<line x1="205.00" y1="1196.20" x2="205.00" y2="1199.60" stroke="#000" stroke-width="0.9"/>
<line x1="237.30" y1="1196.20" x2="237.30" y2="1199.60" stroke="#000" stroke-width="0.9"/>
<line x1="269.50" y1="1196.20" x2="269.50" y2="1199.60" stroke="#000" stroke-width="0.9"/>
<line x1="301.80" y1="1196.20" x2="301.80" y2="1199.60" stroke="#000" stroke-width="0.9"/>
<text x="158.00" y="1160.50" text-anchor="middle" font-size="7" transform="rotate(-90 158.00 1160.50)">Percentage of active</text>
<text x="167.00" y="1160.50" text-anchor="middle" font-size="7" transform="rotate(-90 167.00 1160.50)">KRAS (%)</text>
<rect x="273.25" y="1127.60" width="7.50" height="3.20" fill="#007ebf"/>
<text x="284.25" y="1131.30" font-size="7">without EGF</text>
<rect x="273.25" y="1137.60" width="7.50" height="3.20" fill="#003d7c"/>
<text x="284.25" y="1141.30" font-size="7">with EGF</text>
<text x="205.00" y="1207.50" text-anchor="middle" font-size="7">DMSO</text>
<text x="237.30" y="1207.50" text-anchor="middle" font-size="7">D3S-001</text>
<text x="237.30" y="1215.60" text-anchor="middle" font-size="7">(100</text>
<text x="237.30" y="1224.00" text-anchor="middle" font-size="7">nmol/L)</text>
<text x="269.50" y="1207.50" text-anchor="middle" font-size="7">Sotorasib</text>
<text x="269.50" y="1215.60" text-anchor="middle" font-size="7">(100</text>
<text x="269.50" y="1224.00" text-anchor="middle" font-size="7">nmol/L)</text>
<text x="301.80" y="1207.50" text-anchor="middle" font-size="7">Adagrasib</text>
<text x="301.80" y="1215.60" text-anchor="middle" font-size="7">(80</text>
<text x="301.80" y="1224.00" text-anchor="middle" font-size="7">nmol/L)</text>
<text x="45.20" y="1245.60" font-weight="bold" font-size="10">D</text>
<text x="58.75" y="1245.00">The kinetics of cellular pERK inhibition of KRAS G12C inhibitors in the presence of EGF stimulation</text>
<text x="66.25" y="1273.80">pERK in NCI-H358 cells determined by HTRF</text>
<line x1="72.70" y1="1356.89" x2="242.50" y2="1356.89" stroke="#000" stroke-width="1.4" stroke-dasharray="1.4 2.6"/>
<line x1="74.35" y1="1302.70" x2="74.35" y2="1322.82" stroke="#7a7a7a" stroke-width="0.8"/>
<line x1="72.65" y1="1302.70" x2="76.05" y2="1302.70" stroke="#7a7a7a" stroke-width="0.8"/>
<line x1="72.65" y1="1322.82" x2="76.05" y2="1322.82" stroke="#7a7a7a" stroke-width="0.8"/>
<line x1="81.44" y1="1313.91" x2="81.44" y2="1334.48" stroke="#7a7a7a" stroke-width="0.8"/>
<line x1="79.74" y1="1313.91" x2="83.14" y2="1313.91" stroke="#7a7a7a" stroke-width="0.8"/>
<line x1="79.74" y1="1334.48" x2="83.14" y2="1334.48" stroke="#7a7a7a" stroke-width="0.8"/>
<line x1="92.18" y1="1340.43" x2="92.18" y2="1351.40" stroke="#7a7a7a" stroke-width="0.8"/>
<line x1="90.48" y1="1340.43" x2="93.88" y2="1340.43" stroke="#7a7a7a" stroke-width="0.8"/>
<line x1="90.48" y1="1351.40" x2="93.88" y2="1351.40" stroke="#7a7a7a" stroke-width="0.8"/>
<line x1="113.65" y1="1350.71" x2="113.65" y2="1358.49" stroke="#7a7a7a" stroke-width="0.8"/>
<line x1="111.95" y1="1350.71" x2="115.35" y2="1350.71" stroke="#7a7a7a" stroke-width="0.8"/>
<line x1="111.95" y1="1358.49" x2="115.35" y2="1358.49" stroke="#7a7a7a" stroke-width="0.8"/>
<line x1="156.60" y1="1353.92" x2="156.60" y2="1362.15" stroke="#7a7a7a" stroke-width="0.8"/>
<line x1="154.90" y1="1353.92" x2="158.30" y2="1353.92" stroke="#7a7a7a" stroke-width="0.8"/>
<line x1="154.90" y1="1362.15" x2="158.30" y2="1362.15" stroke="#7a7a7a" stroke-width="0.8"/>
<line x1="242.50" y1="1354.14" x2="242.50" y2="1362.37" stroke="#7a7a7a" stroke-width="0.8"/>
<line x1="240.80" y1="1354.14" x2="244.20" y2="1354.14" stroke="#7a7a7a" stroke-width="0.8"/>
<line x1="240.80" y1="1362.37" x2="244.20" y2="1362.37" stroke="#7a7a7a" stroke-width="0.8"/>
<path d="M70.70 1356.89 L74.35 1312.76 L81.44 1324.19 L92.18 1345.91 L113.65 1354.60 L156.60 1358.03 L242.50 1358.26" fill="none" stroke="#000" stroke-width="1.1" stroke-linejoin="round"/>
<path d="M70.70 1287.60V1379.75H243.20" fill="none" stroke="#000" stroke-width="1.4"/>
<line x1="66.50" y1="1379.75" x2="70.70" y2="1379.75" stroke="#000" stroke-width="1.4"/>
<text x="64.10" y="1382.65" text-anchor="end">0</text>
<line x1="66.50" y1="1356.89" x2="70.70" y2="1356.89" stroke="#000" stroke-width="1.4"/>
<text x="64.10" y="1359.79" text-anchor="end">1</text>
<line x1="66.50" y1="1334.03" x2="70.70" y2="1334.03" stroke="#000" stroke-width="1.4"/>
<text x="64.10" y="1336.93" text-anchor="end">2</text>
<line x1="66.50" y1="1311.16" x2="70.70" y2="1311.16" stroke="#000" stroke-width="1.4"/>
<text x="64.10" y="1314.06" text-anchor="end">3</text>
<line x1="66.50" y1="1288.30" x2="70.70" y2="1288.30" stroke="#000" stroke-width="1.4"/>
<text x="64.10" y="1291.20" text-anchor="end">4</text>
<line x1="70.70" y1="1379.75" x2="70.70" y2="1383.95" stroke="#000" stroke-width="1.4"/>
<text x="70.70" y="1393.00" text-anchor="middle">0</text>
<line x1="113.65" y1="1379.75" x2="113.65" y2="1383.95" stroke="#000" stroke-width="1.4"/>
<text x="113.65" y="1393.00" text-anchor="middle">1</text>
<line x1="156.60" y1="1379.75" x2="156.60" y2="1383.95" stroke="#000" stroke-width="1.4"/>
<text x="156.60" y="1393.00" text-anchor="middle">2</text>
<line x1="199.55" y1="1379.75" x2="199.55" y2="1383.95" stroke="#000" stroke-width="1.4"/>
<text x="199.55" y="1393.00" text-anchor="middle">3</text>
<line x1="242.50" y1="1379.75" x2="242.50" y2="1383.95" stroke="#000" stroke-width="1.4"/>
<text x="242.50" y="1393.00" text-anchor="middle">4</text>
<circle cx="70.70" cy="1356.89" r="1.85" fill="#000"/>
<circle cx="74.35" cy="1312.76" r="1.85" fill="#000"/>
<circle cx="81.44" cy="1324.19" r="1.85" fill="#000"/>
<circle cx="92.18" cy="1345.91" r="1.85" fill="#000"/>
<circle cx="113.65" cy="1354.60" r="1.85" fill="#000"/>
<circle cx="156.60" cy="1358.03" r="1.85" fill="#000"/>
<circle cx="242.50" cy="1358.26" r="1.85" fill="#000"/>
<text x="156.60" y="1406.20" text-anchor="middle">Time (hours)</text>
<text x="52.30" y="1334.03" text-anchor="middle" transform="rotate(-90 52.30 1334.03)">ERK Activity</text>
<line x1="159.25" y1="1310.75" x2="169.45" y2="1310.75" stroke="#000" stroke-width="1.1"/>
<circle cx="164.35" cy="1310.75" r="1.85" fill="#000"/>
<text x="176.25" y="1313.55">EGF 40 ng/mL</text>
<text x="211.75" y="1351.30">Baseline</text>
<text x="300.00" y="1276.10">pERK in NCI-H358 cells determined by HTRF</text>
<line x1="302.75" y1="1356.89" x2="472.50" y2="1356.89" stroke="#000" stroke-width="1.4" stroke-dasharray="1.4 2.6"/>
<line x1="304.40" y1="1326.25" x2="304.40" y2="1336.31" stroke="#b77de0" stroke-width="0.8"/>
<line x1="302.70" y1="1326.25" x2="306.10" y2="1326.25" stroke="#b77de0" stroke-width="0.8"/>
<line x1="302.70" y1="1336.31" x2="306.10" y2="1336.31" stroke="#b77de0" stroke-width="0.8"/>
<line x1="311.48" y1="1330.60" x2="311.48" y2="1339.74" stroke="#b77de0" stroke-width="0.8"/>
<line x1="309.78" y1="1330.60" x2="313.18" y2="1330.60" stroke="#b77de0" stroke-width="0.8"/>
<line x1="309.78" y1="1339.74" x2="313.18" y2="1339.74" stroke="#b77de0" stroke-width="0.8"/>
<line x1="322.22" y1="1353.92" x2="322.22" y2="1358.49" stroke="#b77de0" stroke-width="0.8"/>
<line x1="320.52" y1="1353.92" x2="323.92" y2="1353.92" stroke="#b77de0" stroke-width="0.8"/>
<line x1="320.52" y1="1358.49" x2="323.92" y2="1358.49" stroke="#b77de0" stroke-width="0.8"/>
<line x1="343.69" y1="1366.26" x2="343.69" y2="1367.63" stroke="#b77de0" stroke-width="0.8"/>
<line x1="341.99" y1="1366.26" x2="345.39" y2="1366.26" stroke="#b77de0" stroke-width="0.8"/>
<line x1="341.99" y1="1367.63" x2="345.39" y2="1367.63" stroke="#b77de0" stroke-width="0.8"/>
<path d="M300.75 1356.89 L304.40 1331.28 L311.48 1335.17 L322.22 1356.20 L343.69 1366.95 L386.62 1372.89 L472.50 1376.09" fill="none" stroke="#6d10aa" stroke-width="1.1" stroke-linejoin="round"/>
<path d="M300.75 1287.60V1379.75H473.20" fill="none" stroke="#000" stroke-width="1.4"/>
<line x1="296.55" y1="1379.75" x2="300.75" y2="1379.75" stroke="#000" stroke-width="1.4"/>
<text x="294.15" y="1382.65" text-anchor="end">0</text>
<line x1="296.55" y1="1356.89" x2="300.75" y2="1356.89" stroke="#000" stroke-width="1.4"/>
<text x="294.15" y="1359.79" text-anchor="end">1</text>
<line x1="296.55" y1="1334.03" x2="300.75" y2="1334.03" stroke="#000" stroke-width="1.4"/>
<text x="294.15" y="1336.93" text-anchor="end">2</text>
<line x1="296.55" y1="1311.16" x2="300.75" y2="1311.16" stroke="#000" stroke-width="1.4"/>
<text x="294.15" y="1314.06" text-anchor="end">3</text>
<line x1="296.55" y1="1288.30" x2="300.75" y2="1288.30" stroke="#000" stroke-width="1.4"/>
<text x="294.15" y="1291.20" text-anchor="end">4</text>
<line x1="300.75" y1="1379.75" x2="300.75" y2="1383.95" stroke="#000" stroke-width="1.4"/>
<text x="300.75" y="1393.20" text-anchor="middle">0</text>
<line x1="343.69" y1="1379.75" x2="343.69" y2="1383.95" stroke="#000" stroke-width="1.4"/>
<text x="343.69" y="1393.20" text-anchor="middle">1</text>
<line x1="386.62" y1="1379.75" x2="386.62" y2="1383.95" stroke="#000" stroke-width="1.4"/>
<text x="386.62" y="1393.20" text-anchor="middle">2</text>
<line x1="429.56" y1="1379.75" x2="429.56" y2="1383.95" stroke="#000" stroke-width="1.4"/>
<text x="429.56" y="1393.20" text-anchor="middle">3</text>
<line x1="472.50" y1="1379.75" x2="472.50" y2="1383.95" stroke="#000" stroke-width="1.4"/>
<text x="472.50" y="1393.20" text-anchor="middle">4</text>
<circle cx="300.75" cy="1356.89" r="1.85" fill="#6d10aa"/>
<circle cx="304.40" cy="1331.28" r="1.85" fill="#6d10aa"/>
<circle cx="311.48" cy="1335.17" r="1.85" fill="#6d10aa"/>
<circle cx="322.22" cy="1356.20" r="1.85" fill="#6d10aa"/>
<circle cx="343.69" cy="1366.95" r="1.85" fill="#6d10aa"/>
<circle cx="386.62" cy="1372.89" r="1.85" fill="#6d10aa"/>
<circle cx="472.50" cy="1376.09" r="1.85" fill="#6d10aa"/>
<text x="386.62" y="1405.80" text-anchor="middle">Time (hours)</text>
<text x="281.75" y="1334.03" text-anchor="middle" transform="rotate(-90 281.75 1334.03)">ERK Activity</text>
<line x1="318.00" y1="1310.75" x2="328.20" y2="1310.75" stroke="#6d10aa" stroke-width="1.1"/>
<circle cx="323.10" cy="1310.75" r="1.85" fill="#6d10aa"/>
<text x="335.00" y="1313.55">Sotorasib 130 nmol/L + EGF 40 ng/mL</text>
<text x="439.00" y="1351.50">Baseline</text>
<text x="77.50" y="1440.60">pERK in NCI-H358 cells determined by HTRF</text>
<line x1="77.50" y1="1521.70" x2="247.50" y2="1521.70" stroke="#000" stroke-width="1.4" stroke-dasharray="1.4 2.6"/>
<path d="M75.50 1521.70 L79.16 1509.39 L86.25 1523.07 L97.00 1539.48 L118.50 1542.90 L161.50 1543.36 L247.50 1542.90" fill="none" stroke="#5e5ee6" stroke-width="0.9" stroke-linejoin="round"/>
<path d="M75.50 1452.60V1544.50H248.20" fill="none" stroke="#000" stroke-width="1.4"/>
<line x1="71.30" y1="1544.50" x2="75.50" y2="1544.50" stroke="#000" stroke-width="1.4"/>
<text x="68.90" y="1547.40" text-anchor="end">0</text>
<line x1="71.30" y1="1521.70" x2="75.50" y2="1521.70" stroke="#000" stroke-width="1.4"/>
<text x="68.90" y="1524.60" text-anchor="end">1</text>
<line x1="71.30" y1="1498.90" x2="75.50" y2="1498.90" stroke="#000" stroke-width="1.4"/>
<text x="68.90" y="1501.80" text-anchor="end">2</text>
<line x1="71.30" y1="1476.10" x2="75.50" y2="1476.10" stroke="#000" stroke-width="1.4"/>
<text x="68.90" y="1479.00" text-anchor="end">3</text>
<line x1="71.30" y1="1453.30" x2="75.50" y2="1453.30" stroke="#000" stroke-width="1.4"/>
<text x="68.90" y="1456.20" text-anchor="end">4</text>
<line x1="75.50" y1="1544.50" x2="75.50" y2="1548.70" stroke="#000" stroke-width="1.4"/>
<text x="75.50" y="1558.20" text-anchor="middle">0</text>
<line x1="118.50" y1="1544.50" x2="118.50" y2="1548.70" stroke="#000" stroke-width="1.4"/>
<text x="118.50" y="1558.20" text-anchor="middle">1</text>
<line x1="161.50" y1="1544.50" x2="161.50" y2="1548.70" stroke="#000" stroke-width="1.4"/>
<text x="161.50" y="1558.20" text-anchor="middle">2</text>
<line x1="204.50" y1="1544.50" x2="204.50" y2="1548.70" stroke="#000" stroke-width="1.4"/>
<text x="204.50" y="1558.20" text-anchor="middle">3</text>
<line x1="247.50" y1="1544.50" x2="247.50" y2="1548.70" stroke="#000" stroke-width="1.4"/>
<text x="247.50" y="1558.20" text-anchor="middle">4</text>
<circle cx="75.50" cy="1521.70" r="2.00" fill="#0808c8"/>
<circle cx="79.16" cy="1509.39" r="2.00" fill="#0808c8"/>
<circle cx="86.25" cy="1523.07" r="2.00" fill="#0808c8"/>
<circle cx="97.00" cy="1539.48" r="2.00" fill="#0808c8"/>
<circle cx="118.50" cy="1542.90" r="2.00" fill="#0808c8"/>
<circle cx="161.50" cy="1543.36" r="2.00" fill="#0808c8"/>
<circle cx="247.50" cy="1542.90" r="2.00" fill="#0808c8"/>
<text x="161.50" y="1570.50" text-anchor="middle">Time (hours)</text>
<text x="56.25" y="1498.90" text-anchor="middle" transform="rotate(-90 56.25 1498.90)">ERK Activity</text>
<line x1="87.00" y1="1475.75" x2="97.20" y2="1475.75" stroke="#5e5ee6" stroke-width="0.9"/>
<circle cx="92.10" cy="1475.75" r="2.00" fill="#0808c8"/>
<text x="103.25" y="1478.55">Adagrasib 375 nmol/L + EGF 40 ng/mL</text>
<text x="214.00" y="1517.00">Baseline</text>
<text x="294.25" y="1440.60">pERK in NCI-H358 cells determined by HTRF</text>
<line x1="297.00" y1="1521.70" x2="467.00" y2="1521.70" stroke="#000" stroke-width="1.4" stroke-dasharray="1.4 2.6"/>
<line x1="295.00" y1="1517.37" x2="295.00" y2="1526.03" stroke="#f9a672" stroke-width="0.8"/>
<line x1="293.30" y1="1517.37" x2="296.70" y2="1517.37" stroke="#f9a672" stroke-width="0.8"/>
<line x1="293.30" y1="1526.03" x2="296.70" y2="1526.03" stroke="#f9a672" stroke-width="0.8"/>
<line x1="298.65" y1="1517.37" x2="298.65" y2="1526.03" stroke="#f9a672" stroke-width="0.8"/>
<line x1="296.95" y1="1517.37" x2="300.35" y2="1517.37" stroke="#f9a672" stroke-width="0.8"/>
<line x1="296.95" y1="1526.03" x2="300.35" y2="1526.03" stroke="#f9a672" stroke-width="0.8"/>
<line x1="305.75" y1="1536.75" x2="305.75" y2="1538.12" stroke="#f9a672" stroke-width="0.8"/>
<line x1="304.05" y1="1536.75" x2="307.45" y2="1536.75" stroke="#f9a672" stroke-width="0.8"/>
<line x1="304.05" y1="1538.12" x2="307.45" y2="1538.12" stroke="#f9a672" stroke-width="0.8"/>
<path d="M295.00 1521.70 L298.65 1521.70 L305.75 1537.43 L316.50 1542.68 L338.00 1542.90 L381.00 1542.90 L467.00 1543.36" fill="none" stroke="#fd5a08" stroke-width="1.1" stroke-linejoin="round"/>
<path d="M295.00 1452.60V1544.50H467.70" fill="none" stroke="#000" stroke-width="1.4"/>
<line x1="290.80" y1="1544.50" x2="295.00" y2="1544.50" stroke="#000" stroke-width="1.4"/>
<text x="288.40" y="1547.40" text-anchor="end">0</text>
<line x1="290.80" y1="1521.70" x2="295.00" y2="1521.70" stroke="#000" stroke-width="1.4"/>
<text x="288.40" y="1524.60" text-anchor="end">1</text>
<line x1="290.80" y1="1498.90" x2="295.00" y2="1498.90" stroke="#000" stroke-width="1.4"/>
<text x="288.40" y="1501.80" text-anchor="end">2</text>
<line x1="290.80" y1="1476.10" x2="295.00" y2="1476.10" stroke="#000" stroke-width="1.4"/>
<text x="288.40" y="1479.00" text-anchor="end">3</text>
<line x1="290.80" y1="1453.30" x2="295.00" y2="1453.30" stroke="#000" stroke-width="1.4"/>
<text x="288.40" y="1456.20" text-anchor="end">4</text>
<line x1="295.00" y1="1544.50" x2="295.00" y2="1548.70" stroke="#000" stroke-width="1.4"/>
<text x="295.00" y="1558.40" text-anchor="middle">0</text>
<line x1="338.00" y1="1544.50" x2="338.00" y2="1548.70" stroke="#000" stroke-width="1.4"/>
<text x="338.00" y="1558.40" text-anchor="middle">1</text>
<line x1="381.00" y1="1544.50" x2="381.00" y2="1548.70" stroke="#000" stroke-width="1.4"/>
<text x="381.00" y="1558.40" text-anchor="middle">2</text>
<line x1="424.00" y1="1544.50" x2="424.00" y2="1548.70" stroke="#000" stroke-width="1.4"/>
<text x="424.00" y="1558.40" text-anchor="middle">3</text>
<line x1="467.00" y1="1544.50" x2="467.00" y2="1548.70" stroke="#000" stroke-width="1.4"/>
<text x="467.00" y="1558.40" text-anchor="middle">4</text>
<circle cx="295.00" cy="1521.70" r="1.85" fill="#fd5a08"/>
<circle cx="298.65" cy="1521.70" r="1.85" fill="#fd5a08"/>
<circle cx="305.75" cy="1537.43" r="1.85" fill="#fd5a08"/>
<circle cx="316.50" cy="1542.68" r="1.85" fill="#fd5a08"/>
<circle cx="338.00" cy="1542.90" r="1.85" fill="#fd5a08"/>
<circle cx="381.00" cy="1542.90" r="1.85" fill="#fd5a08"/>
<circle cx="467.00" cy="1543.36" r="1.85" fill="#fd5a08"/>
<text x="381.00" y="1570.50" text-anchor="middle">Time (hours)</text>
<text x="276.25" y="1498.90" text-anchor="middle" transform="rotate(-90 276.25 1498.90)">ERK Activity</text>
<line x1="314.00" y1="1475.75" x2="324.20" y2="1475.75" stroke="#fd5a08" stroke-width="1.1"/>
<circle cx="319.10" cy="1475.75" r="1.85" fill="#fd5a08"/>
<text x="327.50" y="1478.55">D3S-001 180 nmol/L + EGF 40 ng/mL</text>
<text x="435.00" y="1517.00">Baseline</text>
</svg>
</body></html>
